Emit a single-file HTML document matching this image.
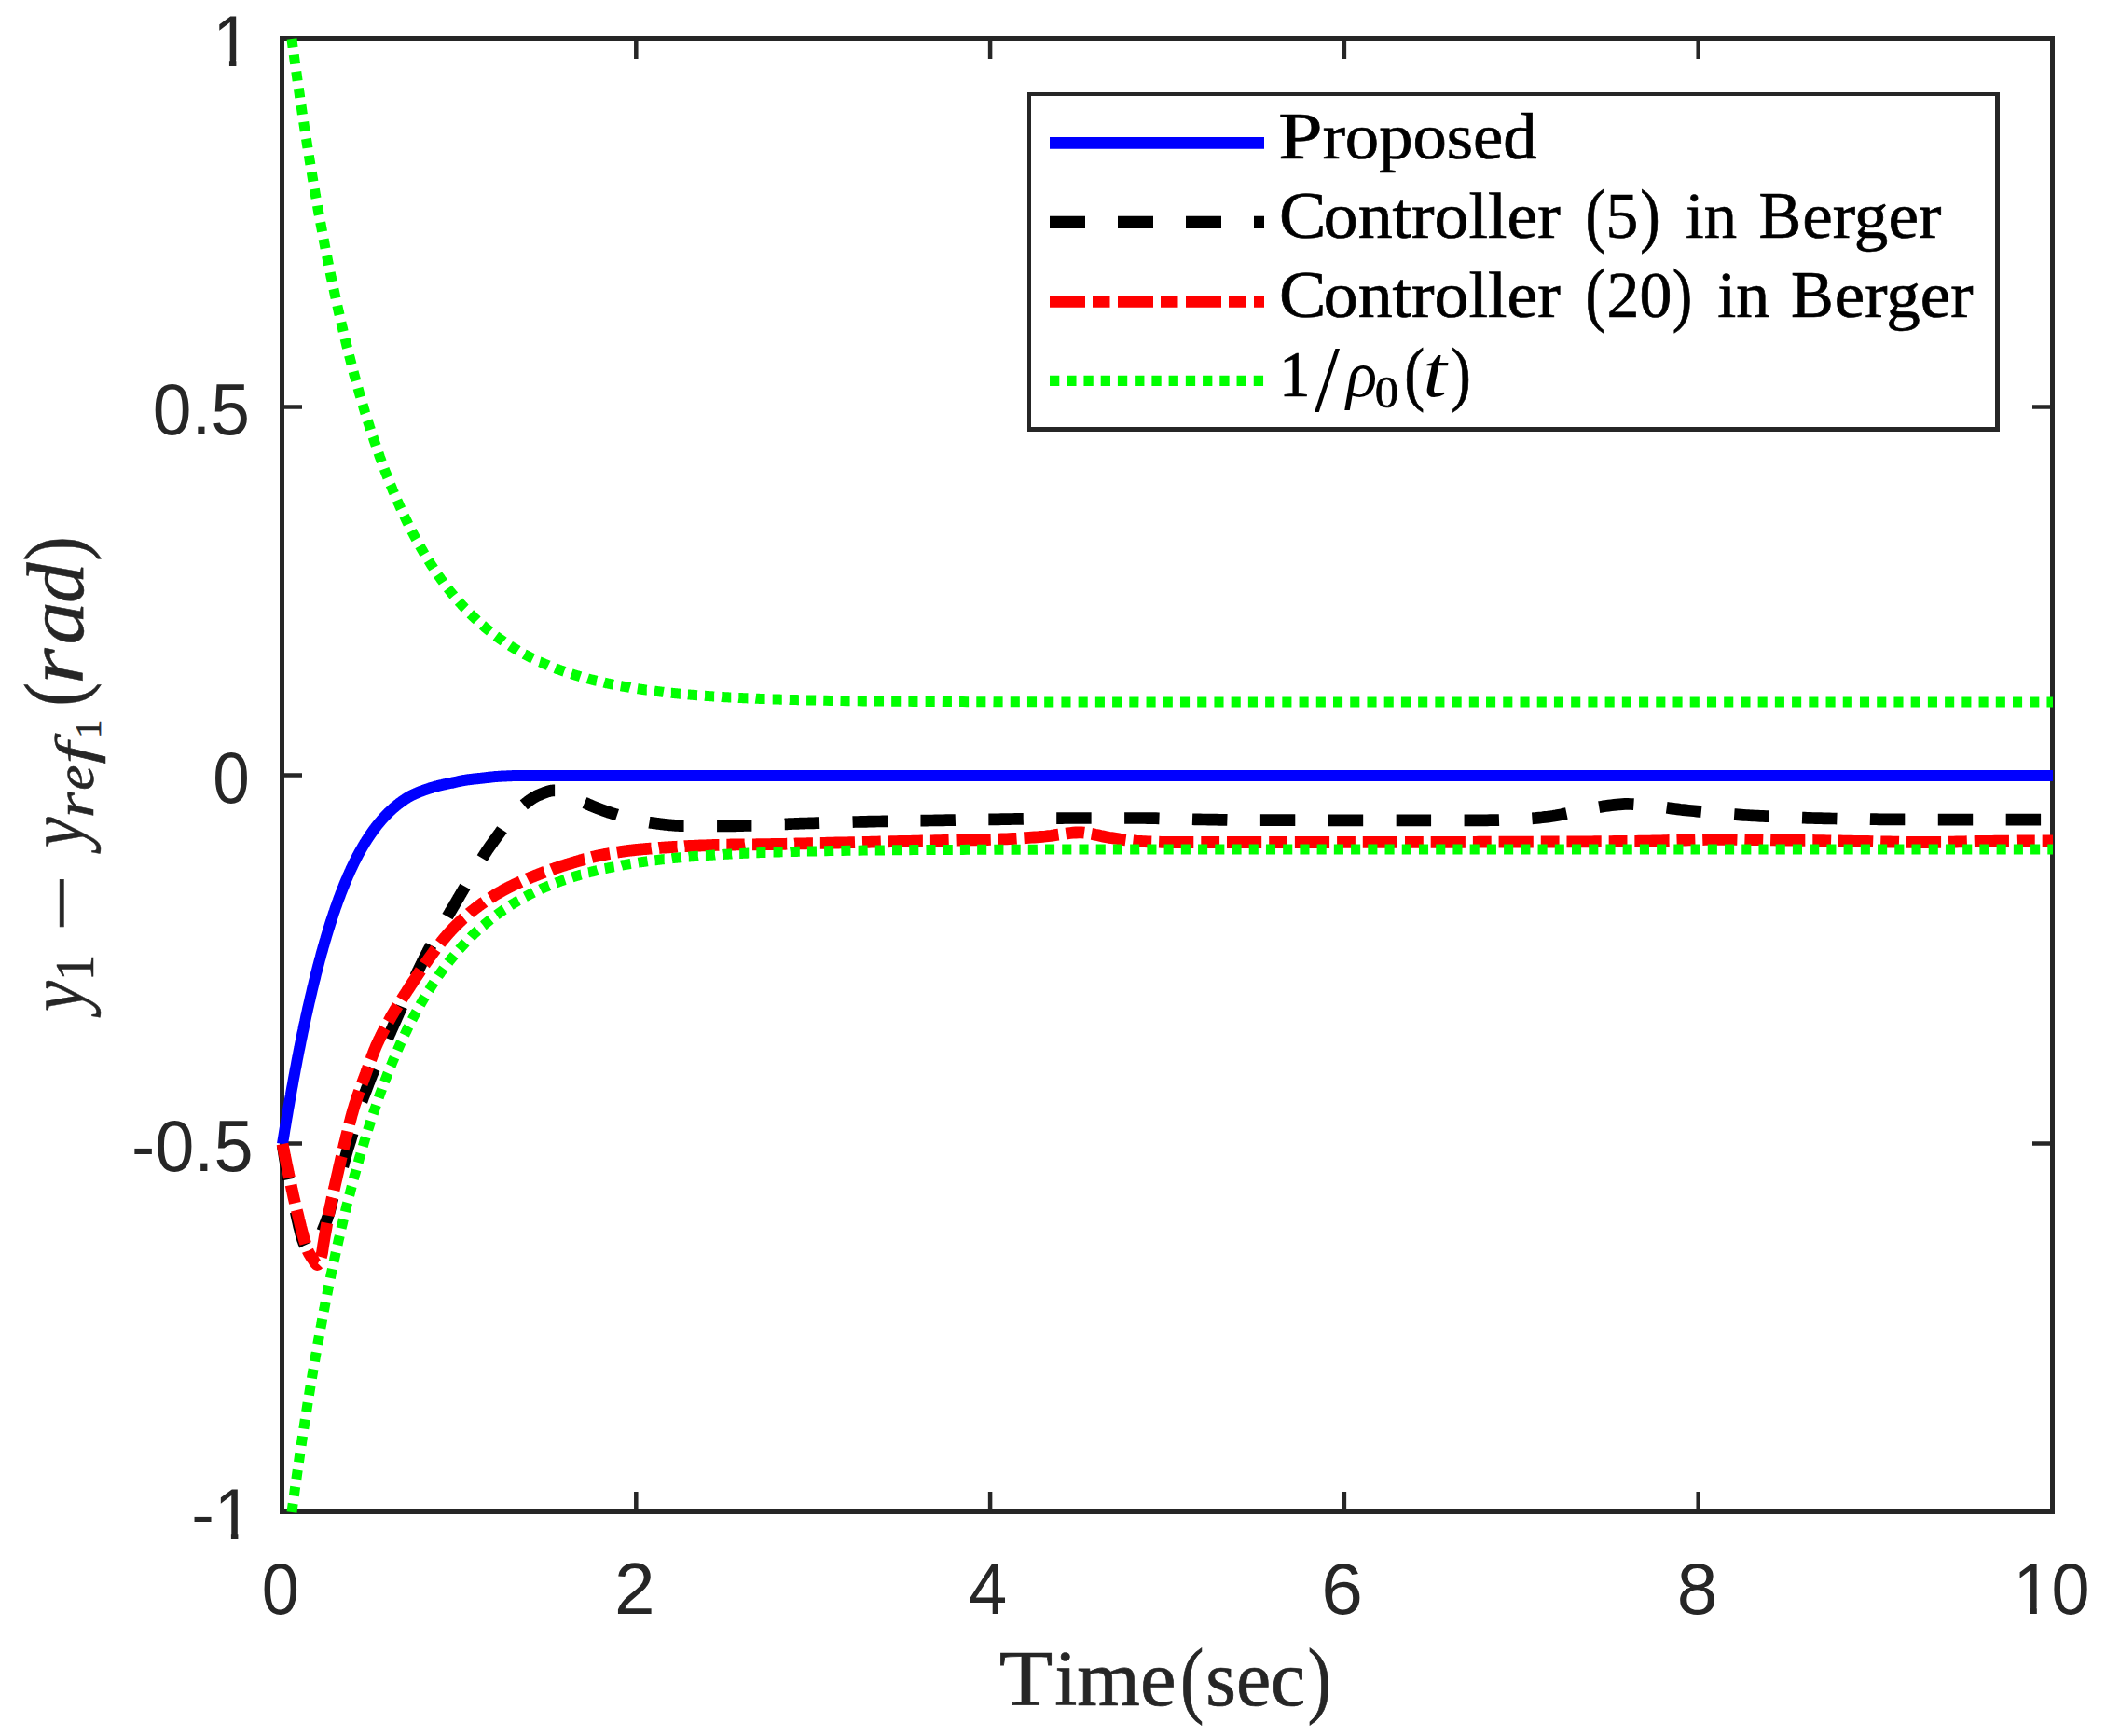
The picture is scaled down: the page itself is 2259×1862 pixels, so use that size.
<!DOCTYPE html>
<html lang="en">
<head>
<meta charset="utf-8">
<title>Tracking error y1 - yref1 (rad) versus Time(sec)</title>
<style>
html,body{margin:0;padding:0;background:#ffffff;}
body{width:2259px;height:1862px;overflow:hidden;}
svg{display:block;}
</style>
</head>
<body>
<svg width="2259" height="1862" viewBox="0 0 2259 1862">
<rect x="0" y="0" width="2259" height="1862" fill="#ffffff"/>
<g stroke="#262626" fill="none">
<rect x="302.5" y="41.5" width="1899.0" height="1580.0" stroke-width="5"/>
<path stroke-width="4.5" d="M682.3,1621.5 V1600.0 M682.3,41.5 V63.0 M1062.1,1621.5 V1600.0 M1062.1,41.5 V63.0 M1441.9,1621.5 V1600.0 M1441.9,41.5 V63.0 M1821.7,1621.5 V1600.0 M1821.7,41.5 V63.0 M302.5,436.6 H324.0 M2201.5,436.6 H2180.0 M302.5,831.6 H324.0 M2201.5,831.6 H2180.0 M302.5,1226.6 H324.0 M2201.5,1226.6 H2180.0"/>
</g>
<g fill="none" stroke-width="12.0" stroke-linejoin="round">
<path id="c-blue" stroke="#0000ff" stroke-width="12" d="M303.0,1227.0 L303.6,1223.1 L304.3,1219.1 L304.9,1215.3 L305.5,1211.4 L306.2,1207.6 L306.8,1203.8 L307.4,1200.0 L308.1,1196.2 L308.7,1192.5 L309.3,1188.8 L310.0,1185.1 L310.6,1181.5 L311.2,1177.9 L311.9,1174.3 L312.5,1170.7 L313.1,1167.2 L313.8,1163.7 L314.4,1160.2 L315.0,1156.7 L315.7,1153.3 L316.3,1149.9 L316.9,1146.5 L317.6,1143.2 L318.2,1139.9 L318.8,1136.6 L319.5,1133.3 L320.1,1130.0 L320.7,1126.8 L321.4,1123.6 L322.0,1120.5 L322.6,1117.3 L323.3,1114.2 L323.9,1111.1 L324.5,1108.0 L325.2,1105.0 L325.8,1102.0 L326.4,1099.0 L327.1,1096.0 L327.7,1093.1 L328.3,1090.1 L329.0,1087.2 L329.6,1084.4 L330.2,1081.5 L330.9,1078.7 L331.5,1075.9 L332.2,1073.1 L332.8,1070.4 L333.4,1067.7 L334.1,1065.0 L334.7,1062.3 L335.3,1059.6 L336.0,1057.0 L336.6,1054.4 L337.2,1051.8 L337.9,1049.3 L338.5,1046.7 L339.1,1044.2 L339.8,1041.7 L340.4,1039.3 L341.0,1036.8 L341.7,1034.4 L342.3,1032.0 L342.9,1029.6 L343.6,1027.3 L344.2,1024.9 L344.8,1022.6 L345.5,1020.3 L346.1,1018.1 L346.7,1015.8 L347.4,1013.6 L348.0,1011.4 L348.6,1009.2 L349.3,1007.0 L349.9,1004.9 L350.5,1002.8 L351.2,1000.7 L351.8,998.6 L352.4,996.5 L353.1,994.5 L353.7,992.5 L354.3,990.5 L355.0,988.5 L355.6,986.6 L356.2,984.6 L356.9,982.7 L357.5,980.8 L358.1,978.9 L358.8,977.1 L359.4,975.2 L360.0,973.4 L360.7,971.6 L361.3,969.8 L361.9,968.0 L362.6,966.3 L363.2,964.6 L363.8,962.9 L364.5,961.2 L365.1,959.5 L365.7,957.8 L366.4,956.2 L367.0,954.6 L367.6,953.0 L368.3,951.4 L368.9,949.8 L369.5,948.3 L370.2,946.7 L370.8,945.2 L371.4,943.7 L372.1,942.2 L372.7,940.8 L373.3,939.3 L374.0,937.9 L374.6,936.4 L375.2,935.0 L375.9,933.6 L376.5,932.3 L377.1,930.9 L377.8,929.6 L378.4,928.2 L379.0,926.9 L379.7,925.6 L380.3,924.3 L380.9,923.1 L381.6,921.8 L382.2,920.6 L382.8,919.4 L383.5,918.1 L384.1,916.9 L384.7,915.8 L385.4,914.6 L386.0,913.4 L386.6,912.3 L387.3,911.2 L387.9,910.1 L388.6,909.0 L389.2,907.9 L389.8,906.8 L390.5,905.7 L391.1,904.7 L391.7,903.6 L392.4,902.6 L393.0,901.6 L393.6,900.6 L394.3,899.6 L394.9,898.7 L395.5,897.7 L396.2,896.7 L396.8,895.8 L397.4,894.9 L398.1,894.0 L398.7,893.1 L399.3,892.2 L400.0,891.3 L400.6,890.4 L401.2,889.5 L401.9,888.7 L402.5,887.9 L403.1,887.0 L403.8,886.2 L404.4,885.4 L405.0,884.6 L405.7,883.8 L406.3,883.1 L406.9,882.3 L407.6,881.5 L408.2,880.8 L408.8,880.0 L409.5,879.3 L410.1,878.6 L410.7,877.9 L411.4,877.2 L412.0,876.5 L412.6,875.8 L413.3,875.2 L413.9,874.5 L414.5,873.8 L415.2,873.2 L415.8,872.6 L416.4,871.9 L417.1,871.3 L417.7,870.7 L418.3,870.1 L419.0,869.5 L419.6,868.9 L420.2,868.4 L420.9,867.8 L421.5,867.2 L422.1,866.7 L422.8,866.1 L423.4,865.6 L424.0,865.0 L424.7,864.5 L425.3,864.0 L425.9,863.5 L426.6,863.0 L427.2,862.5 L427.8,862.0 L428.5,861.5 L429.1,861.1 L429.7,860.6 L430.4,860.1 L431.0,859.7 L431.6,859.2 L432.3,858.8 L432.9,858.3 L433.5,857.9 L434.2,857.5 L434.8,857.0 L435.4,856.6 L436.1,856.2 L436.7,855.8 L437.3,855.4 L438.0,855.0 L438.6,854.7 L439.2,854.3 L439.9,854.0 L440.5,853.6 L441.1,853.3 L441.8,853.0 L442.4,852.7 L443.0,852.4 L443.7,852.1 L444.3,851.8 L444.9,851.5 L445.6,851.2 L446.2,850.9 L446.9,850.7 L447.5,850.4 L448.1,850.1 L448.8,849.9 L449.4,849.6 L450.0,849.3 L450.7,849.1 L451.3,848.9 L451.9,848.6 L452.6,848.4 L453.2,848.1 L453.8,847.9 L454.5,847.7 L455.1,847.4 L455.7,847.2 L456.4,847.0 L457.0,846.8 L457.6,846.6 L458.3,846.4 L458.9,846.1 L459.5,845.9 L460.2,845.7 L460.8,845.5 L461.4,845.3 L462.1,845.1 L462.7,845.0 L463.3,844.8 L464.0,844.6 L464.6,844.4 L465.2,844.2 L465.9,844.0 L466.5,843.9 L467.1,843.7 L467.8,843.5 L468.4,843.3 L469.0,843.2 L469.7,843.0 L470.3,842.8 L470.9,842.7 L471.6,842.5 L472.2,842.4 L472.8,842.2 L473.5,842.1 L474.1,841.9 L474.7,841.8 L475.4,841.6 L476.0,841.5 L476.6,841.4 L477.3,841.2 L477.9,841.1 L478.5,841.0 L479.2,840.8 L479.8,840.7 L480.4,840.6 L481.1,840.4 L481.7,840.3 L482.3,840.2 L483.0,840.0 L483.6,839.9 L484.2,839.8 L484.9,839.7 L485.5,839.5 L486.1,839.4 L486.8,839.3 L487.4,839.1 L488.0,839.0 L488.7,838.9 L489.3,838.7 L489.9,838.6 L490.6,838.4 L491.2,838.3 L491.8,838.2 L492.5,838.0 L493.1,837.9 L493.7,837.8 L494.4,837.6 L495.0,837.5 L495.6,837.4 L496.3,837.3 L496.9,837.2 L497.5,837.0 L498.2,836.9 L498.8,836.8 L499.4,836.7 L500.1,836.6 L500.7,836.5 L501.3,836.4 L502.0,836.3 L502.6,836.3 L503.3,836.2 L503.9,836.1 L504.5,836.0 L505.2,835.9 L505.8,835.9 L506.4,835.8 L507.1,835.7 L507.7,835.6 L508.3,835.6 L509.0,835.5 L509.6,835.4 L510.2,835.4 L510.9,835.3 L511.5,835.2 L512.1,835.2 L512.8,835.1 L513.4,835.0 L514.0,835.0 L514.7,834.9 L515.3,834.8 L515.9,834.8 L516.6,834.7 L517.2,834.6 L517.8,834.6 L518.5,834.5 L519.1,834.4 L519.7,834.3 L520.4,834.3 L521.0,834.2 L521.6,834.1 L522.3,834.0 L522.9,834.0 L523.5,833.9 L524.2,833.8 L524.8,833.8 L525.4,833.7 L526.1,833.6 L526.7,833.5 L527.3,833.5 L528.0,833.4 L528.6,833.3 L529.2,833.3 L529.9,833.2 L530.5,833.1 L531.1,833.1 L531.8,833.0 L532.4,833.0 L533.0,832.9 L533.7,832.9 L534.3,832.8 L534.9,832.8 L535.6,832.7 L536.2,832.7 L536.8,832.7 L537.5,832.6 L538.1,832.6 L538.7,832.6 L539.4,832.5 L540.0,832.5 L540.6,832.5 L541.3,832.4 L541.9,832.4 L542.5,832.4 L543.2,832.4 L543.8,832.3 L544.4,832.3 L545.1,832.3 L545.7,832.3 L546.3,832.2 L547.0,832.2 L547.6,832.2 L548.2,832.2 L548.9,832.2 L549.5,832.1 L550.1,832.1 L550.8,832.1 L551.4,832.1 L552.0,832.1 L552.7,832.1 L553.3,832.1 L553.9,832.1 L554.6,832.1 L555.2,832.1 L555.8,832.1 L556.5,832.1 L557.1,832.1 L557.7,832.1 L558.4,832.1 L559.0,832.1 L559.7,832.0 L560.3,832.0 L560.9,832.0 L561.6,832.0 L562.2,832.0 L562.8,832.0 L563.5,832.0 L564.1,832.0 L564.7,832.0 L565.4,832.0 L566.0,832.0 L566.6,832.0 L567.3,832.0 L567.9,832.0 L568.5,832.0 L569.2,832.0 L569.8,832.0 L570.4,832.0 L571.1,832.0 L571.7,832.0 L572.3,832.0 L573.0,832.0 L573.6,832.0 L574.2,832.0 L574.9,832.0 L575.5,832.0 L576.1,832.0 L576.8,832.0 L577.4,832.0 L578.0,832.0 L578.7,832.0 L579.3,832.0 L579.9,832.0 L580.6,832.0 L581.2,832.0 L581.8,832.0 L582.5,832.0 L583.1,832.0 L583.7,832.0 L584.4,832.0 L585.0,832.0 L585.6,832.0 L586.3,832.0 L586.9,832.0 L587.5,832.0 L588.2,832.0 L588.8,832.0 L589.4,832.0 L590.1,832.0 L590.7,832.0 L591.3,832.0 L592.0,832.0 L592.6,832.0 L593.2,832.0 L593.9,832.0 L594.5,832.0 L595.1,832.0 L595.8,832.0 L596.4,832.0 L597.0,832.0 L597.7,832.0 L598.3,832.0 L598.9,832.0 L599.6,832.0 L600.2,832.0 L600.8,832.0 L601.5,832.0 L602.1,832.0 L602.7,832.0 L603.4,832.0 L604.0,832.0 L604.6,832.0 L605.3,832.0 L605.9,832.0 L606.5,832.0 L607.2,832.0 L607.8,832.0 L608.4,832.0 L609.1,832.0 L609.7,832.0 L610.3,832.0 L611.0,832.0 L611.6,832.0 L612.2,832.0 L612.9,832.0 L613.5,832.0 L614.1,832.0 L614.8,832.0 L615.4,832.0 L616.0,832.0 L616.7,832.0 L617.3,832.0 L618.0,832.0 L618.6,832.0 L619.2,832.0 L619.9,832.0 L620.5,832.0 L621.1,832.0 L621.8,832.0 L622.4,832.0 L623.0,832.0 L623.7,832.0 L624.3,832.0 L624.9,832.0 L625.6,832.0 L626.2,832.0 L626.8,832.0 L627.5,832.0 L628.1,832.0 L628.7,832.0 L629.4,832.0 L630.0,832.0 L630.6,832.0 L631.3,832.0 L631.9,832.0 L632.5,832.0 L633.2,832.0 L633.8,832.0 L634.4,832.0 L635.1,832.0 L635.7,832.0 L636.3,832.0 L637.0,832.0 L637.6,832.0 L638.2,832.0 L638.9,832.0 L639.5,832.0 L640.1,832.0 L640.8,832.0 L641.4,832.0 L642.0,832.0 L642.7,832.0 L643.3,832.0 L643.9,832.0 L644.6,832.0 L645.2,832.0 L645.8,832.0 L646.5,832.0 L647.1,832.0 L647.7,832.0 L648.4,832.0 L649.0,832.0 L649.6,832.0 L650.3,832.0 L650.9,832.0 L651.5,832.0 L652.2,832.0 L652.8,832.0 L653.4,832.0 L654.1,832.0 L654.7,832.0 L655.3,832.0 L656.0,832.0 L656.6,832.0 L657.2,832.0 L657.9,832.0 L658.5,832.0 L659.1,832.0 L659.8,832.0 L660.4,832.0 L661.0,832.0 L661.7,832.0 L662.3,832.0 L662.9,832.0 L663.6,832.0 L664.2,832.0 L664.8,832.0 L665.5,832.0 L666.1,832.0 L666.7,832.0 L667.4,832.0 L668.0,832.0 L668.6,832.0 L669.3,832.0 L669.9,832.0 L670.5,832.0 L671.2,832.0 L671.8,832.0 L672.4,832.0 L673.1,832.0 L673.7,832.0 L674.4,832.0 L675.0,832.0 L675.6,832.0 L676.3,832.0 L676.9,832.0 L677.5,832.0 L678.2,832.0 L678.8,832.0 L679.4,832.0 L680.1,832.0 L680.7,832.0 L681.3,832.0 L682.0,832.0 L682.6,832.0 L683.2,832.0 L683.9,832.0 L684.5,832.0 L685.1,832.0 L685.8,832.0 L686.4,832.0 L687.0,832.0 L687.7,832.0 L688.3,832.0 L688.9,832.0 L689.6,832.0 L690.2,832.0 L690.8,832.0 L691.5,832.0 L692.1,832.0 L692.7,832.0 L693.4,832.0 L694.0,832.0 L694.6,832.0 L695.3,832.0 L695.9,832.0 L696.5,832.0 L697.2,832.0 L697.8,832.0 L698.4,832.0 L699.1,832.0 L699.7,832.0 L700.3,832.0 L701.0,832.0 L701.6,832.0 L702.2,832.0 L702.9,832.0 L703.5,832.0 L704.1,832.0 L704.8,832.0 L705.4,832.0 L706.0,832.0 L706.7,832.0 L707.3,832.0 L707.9,832.0 L708.6,832.0 L709.2,832.0 L709.8,832.0 L710.5,832.0 L711.1,832.0 L711.7,832.0 L712.4,832.0 L713.0,832.0 L713.6,832.0 L714.3,832.0 L714.9,832.0 L715.5,832.0 L716.2,832.0 L716.8,832.0 L717.4,832.0 L718.1,832.0 L718.7,832.0 L719.3,832.0 L720.0,832.0 L720.6,832.0 L721.2,832.0 L721.9,832.0 L722.5,832.0 L723.1,832.0 L723.8,832.0 L724.4,832.0 L725.0,832.0 L725.7,832.0 L726.3,832.0 L726.9,832.0 L727.6,832.0 L728.2,832.0 L728.8,832.0 L729.5,832.0 L730.1,832.0 L730.8,832.0 L731.4,832.0 L732.0,832.0 L732.7,832.0 L733.3,832.0 L733.9,832.0 L734.6,832.0 L735.2,832.0 L735.8,832.0 L736.5,832.0 L737.1,832.0 L737.7,832.0 L738.4,832.0 L739.0,832.0 L739.6,832.0 L740.3,832.0 L740.9,832.0 L741.5,832.0 L742.2,832.0 L742.8,832.0 L743.4,832.0 L744.1,832.0 L744.7,832.0 L745.3,832.0 L746.0,832.0 L746.6,832.0 L747.2,832.0 L747.9,832.0 L748.5,832.0 L749.1,832.0 L749.8,832.0 L750.4,832.0 L751.0,832.0 L751.7,832.0 L752.3,832.0 L752.9,832.0 L753.6,832.0 L754.2,832.0 L754.8,832.0 L755.5,832.0 L756.1,832.0 L756.7,832.0 L757.4,832.0 L758.0,832.0 L758.6,832.0 L759.3,832.0 L759.9,832.0 L760.5,832.0 L761.2,832.0 L761.8,832.0 L762.4,832.0 L763.1,832.0 L763.7,832.0 L764.3,832.0 L765.0,832.0 L765.6,832.0 L766.2,832.0 L766.9,832.0 L767.5,832.0 L768.1,832.0 L768.8,832.0 L769.4,832.0 L770.0,832.0 L770.7,832.0 L771.3,832.0 L771.9,832.0 L772.6,832.0 L773.2,832.0 L773.8,832.0 L774.5,832.0 L775.1,832.0 L775.7,832.0 L776.4,832.0 L777.0,832.0 L777.6,832.0 L778.3,832.0 L778.9,832.0 L779.5,832.0 L780.2,832.0 L780.8,832.0 L781.4,832.0 L782.1,832.0 L782.7,832.0 L783.3,832.0 L784.0,832.0 L784.6,832.0 L785.2,832.0 L785.9,832.0 L786.5,832.0 L787.1,832.0 L787.8,832.0 L788.4,832.0 L789.1,832.0 L789.7,832.0 L790.3,832.0 L791.0,832.0 L791.6,832.0 L792.2,832.0 L792.9,832.0 L793.5,832.0 L794.1,832.0 L794.8,832.0 L795.4,832.0 L796.0,832.0 L796.7,832.0 L797.3,832.0 L797.9,832.0 L798.6,832.0 L799.2,832.0 L799.8,832.0 L800.5,832.0 L801.1,832.0 L801.7,832.0 L802.4,832.0 L803.0,832.0 L803.6,832.0 L804.3,832.0 L804.9,832.0 L805.5,832.0 L806.2,832.0 L806.8,832.0 L807.4,832.0 L808.1,832.0 L808.7,832.0 L809.3,832.0 L810.0,832.0 L810.6,832.0 L811.2,832.0 L811.9,832.0 L812.5,832.0 L813.1,832.0 L813.8,832.0 L814.4,832.0 L815.0,832.0 L815.7,832.0 L816.3,832.0 L816.9,832.0 L817.6,832.0 L818.2,832.0 L818.8,832.0 L819.5,832.0 L820.1,832.0 L820.7,832.0 L821.4,832.0 L822.0,832.0 L822.6,832.0 L823.3,832.0 L823.9,832.0 L824.5,832.0 L825.2,832.0 L825.8,832.0 L826.4,832.0 L827.1,832.0 L827.7,832.0 L828.3,832.0 L829.0,832.0 L829.6,832.0 L830.2,832.0 L830.9,832.0 L831.5,832.0 L832.1,832.0 L832.8,832.0 L833.4,832.0 L834.0,832.0 L834.7,832.0 L835.3,832.0 L835.9,832.0 L836.6,832.0 L837.2,832.0 L837.8,832.0 L838.5,832.0 L839.1,832.0 L839.7,832.0 L840.4,832.0 L841.0,832.0 L841.6,832.0 L842.3,832.0 L842.9,832.0 L843.5,832.0 L844.2,832.0 L844.8,832.0 L845.5,832.0 L846.1,832.0 L846.7,832.0 L847.4,832.0 L848.0,832.0 L848.6,832.0 L849.3,832.0 L849.9,832.0 L850.5,832.0 L851.2,832.0 L851.8,832.0 L852.4,832.0 L853.1,832.0 L853.7,832.0 L854.3,832.0 L855.0,832.0 L855.6,832.0 L856.2,832.0 L856.9,832.0 L857.5,832.0 L858.1,832.0 L858.8,832.0 L859.4,832.0 L860.0,832.0 L860.7,832.0 L861.3,832.0 L861.9,832.0 L862.6,832.0 L863.2,832.0 L863.8,832.0 L864.5,832.0 L865.1,832.0 L865.7,832.0 L866.4,832.0 L867.0,832.0 L867.6,832.0 L868.3,832.0 L868.9,832.0 L869.5,832.0 L870.2,832.0 L870.8,832.0 L871.4,832.0 L872.1,832.0 L872.7,832.0 L899.8,832.0 L927.0,832.0 L954.1,832.0 L981.2,832.0 L1008.3,832.0 L1035.5,832.0 L1062.6,832.0 L1089.7,832.0 L1116.9,832.0 L1144.0,832.0 L1171.1,832.0 L1198.2,832.0 L1225.4,832.0 L1252.5,832.0 L1279.6,832.0 L1306.8,832.0 L1333.9,832.0 L1361.0,832.0 L1388.1,832.0 L1415.3,832.0 L1442.4,832.0 L1469.5,832.0 L1496.7,832.0 L1523.8,832.0 L1550.9,832.0 L1578.0,832.0 L1605.2,832.0 L1632.3,832.0 L1659.4,832.0 L1686.6,832.0 L1713.7,832.0 L1740.8,832.0 L1767.9,832.0 L1795.1,832.0 L1822.2,832.0 L1849.3,832.0 L1876.5,832.0 L1903.6,832.0 L1930.7,832.0 L1957.8,832.0 L1985.0,832.0 L2012.1,832.0 L2039.2,832.0 L2066.4,832.0 L2093.5,832.0 L2120.6,832.0 L2147.7,832.0 L2174.9,832.0 L2202.0,832.0"/>
<path id="c-black" stroke="#000000" stroke-width="12.7" stroke-dasharray="37.4 35.50" stroke-dashoffset="71.75" d="M303.0,1227.0 L303.6,1231.1 L304.3,1235.2 L304.9,1239.1 L305.5,1243.0 L306.2,1246.8 L306.8,1250.5 L307.4,1254.0 L308.1,1257.5 L308.7,1260.9 L309.3,1264.2 L310.0,1267.4 L310.6,1270.5 L311.2,1273.5 L311.9,1276.4 L312.5,1279.3 L313.1,1282.1 L313.8,1284.8 L314.4,1287.6 L315.0,1290.3 L315.7,1293.1 L316.3,1295.9 L316.9,1298.7 L317.6,1301.6 L318.2,1304.4 L318.8,1307.3 L319.5,1310.1 L320.1,1312.8 L320.7,1315.5 L321.4,1318.1 L322.0,1320.6 L322.6,1323.1 L323.3,1325.3 L323.9,1327.5 L324.5,1329.5 L325.2,1331.3 L325.8,1332.9 L326.4,1334.3 L327.1,1335.6 L327.7,1336.9 L328.3,1338.0 L329.0,1339.0 L329.6,1340.0 L330.2,1340.9 L330.9,1341.9 L331.5,1342.7 L332.2,1343.0 L332.8,1342.6 L333.4,1341.9 L334.1,1341.1 L334.7,1340.3 L335.3,1339.5 L336.0,1338.6 L336.6,1337.7 L337.2,1336.7 L337.9,1335.7 L338.5,1334.7 L339.1,1333.7 L339.8,1332.6 L340.4,1331.5 L341.0,1330.3 L341.7,1329.2 L342.3,1327.9 L342.9,1326.6 L343.6,1325.3 L344.2,1323.9 L344.8,1322.5 L345.5,1321.0 L346.1,1319.5 L346.7,1318.0 L347.4,1316.5 L348.0,1314.9 L348.6,1313.4 L349.3,1311.7 L349.9,1310.1 L350.5,1308.4 L351.2,1306.6 L351.8,1304.7 L352.4,1302.8 L353.1,1300.8 L353.7,1298.6 L354.3,1296.2 L355.0,1293.5 L355.6,1290.7 L356.2,1288.0 L356.9,1285.4 L357.5,1283.0 L358.1,1280.9 L358.8,1278.9 L359.4,1277.0 L360.0,1275.1 L360.7,1273.3 L361.3,1271.6 L361.9,1269.8 L362.6,1268.1 L363.2,1266.3 L363.8,1264.5 L364.5,1262.7 L365.1,1260.7 L365.7,1258.7 L366.4,1256.5 L367.0,1254.3 L367.6,1252.0 L368.3,1249.7 L368.9,1247.3 L369.5,1244.9 L370.2,1242.6 L370.8,1240.2 L371.4,1238.0 L372.1,1235.7 L372.7,1233.6 L373.3,1231.5 L374.0,1229.5 L374.6,1227.5 L375.2,1225.5 L375.9,1223.4 L376.5,1221.3 L377.1,1219.1 L377.8,1216.8 L378.4,1214.5 L379.0,1212.1 L379.7,1209.8 L380.3,1207.4 L380.9,1205.0 L381.6,1202.6 L382.2,1200.2 L382.8,1197.9 L383.5,1195.6 L384.1,1193.4 L384.7,1191.3 L385.4,1189.3 L386.0,1187.3 L386.6,1185.4 L387.3,1183.6 L387.9,1181.8 L388.6,1180.1 L389.2,1178.4 L389.8,1176.7 L390.5,1175.0 L391.1,1173.4 L391.7,1171.7 L392.4,1170.1 L393.0,1168.5 L393.6,1166.8 L394.3,1165.1 L394.9,1163.4 L395.5,1161.7 L396.2,1160.1 L396.8,1158.4 L397.4,1156.8 L398.1,1155.2 L398.7,1153.6 L399.3,1152.0 L400.0,1150.5 L400.6,1148.9 L401.2,1147.4 L401.9,1145.9 L402.5,1144.4 L403.1,1142.9 L403.8,1141.4 L404.4,1139.9 L405.0,1138.4 L405.7,1136.9 L406.3,1135.4 L406.9,1134.0 L407.6,1132.5 L408.2,1131.0 L408.8,1129.6 L409.5,1128.1 L410.1,1126.7 L410.7,1125.3 L411.4,1123.8 L412.0,1122.4 L412.6,1121.0 L413.3,1119.5 L413.9,1118.1 L414.5,1116.7 L415.2,1115.3 L415.8,1113.8 L416.4,1112.4 L417.1,1111.0 L417.7,1109.6 L418.3,1108.2 L419.0,1106.7 L419.6,1105.3 L420.2,1103.9 L420.9,1102.5 L421.5,1101.1 L422.1,1099.6 L422.8,1098.2 L423.4,1096.8 L424.0,1095.4 L424.7,1093.9 L425.3,1092.5 L425.9,1091.1 L426.6,1089.6 L427.2,1088.2 L427.8,1086.7 L428.5,1085.3 L429.1,1083.9 L429.7,1082.4 L430.4,1081.0 L431.0,1079.5 L431.6,1078.1 L432.3,1076.7 L432.9,1075.2 L433.5,1073.8 L434.2,1072.4 L434.8,1070.9 L435.4,1069.5 L436.1,1068.1 L436.7,1066.7 L437.3,1065.3 L438.0,1063.8 L438.6,1062.4 L439.2,1061.0 L439.9,1059.6 L440.5,1058.2 L441.1,1056.8 L441.8,1055.4 L442.4,1054.0 L443.0,1052.7 L443.7,1051.3 L444.3,1049.9 L444.9,1048.5 L445.6,1047.2 L446.2,1045.8 L446.9,1044.5 L447.5,1043.1 L448.1,1041.8 L448.8,1040.5 L449.4,1039.2 L450.0,1037.9 L450.7,1036.6 L451.3,1035.3 L451.9,1034.0 L452.6,1032.7 L453.2,1031.4 L453.8,1030.2 L454.5,1028.9 L455.1,1027.7 L455.7,1026.5 L456.4,1025.2 L457.0,1024.0 L457.6,1022.8 L458.3,1021.6 L458.9,1020.4 L459.5,1019.2 L460.2,1018.0 L460.8,1016.8 L461.4,1015.7 L462.1,1014.5 L462.7,1013.3 L463.3,1012.2 L464.0,1011.0 L464.6,1009.9 L465.2,1008.7 L465.9,1007.6 L466.5,1006.5 L467.1,1005.3 L467.8,1004.2 L468.4,1003.1 L469.0,1002.0 L469.7,1000.8 L470.3,999.7 L470.9,998.6 L471.6,997.5 L472.2,996.4 L472.8,995.3 L473.5,994.2 L474.1,993.1 L474.7,992.0 L475.4,991.0 L476.0,989.9 L476.6,988.8 L477.3,987.7 L477.9,986.6 L478.5,985.5 L479.2,984.5 L479.8,983.4 L480.4,982.3 L481.1,981.2 L481.7,980.2 L482.3,979.1 L483.0,978.0 L483.6,976.9 L484.2,975.9 L484.9,974.8 L485.5,973.7 L486.1,972.7 L486.8,971.6 L487.4,970.5 L488.0,969.4 L488.7,968.4 L489.3,967.3 L489.9,966.2 L490.6,965.1 L491.2,964.1 L491.8,963.0 L492.5,961.9 L493.1,960.8 L493.7,959.7 L494.4,958.6 L495.0,957.5 L495.6,956.4 L496.3,955.4 L496.9,954.3 L497.5,953.2 L498.2,952.1 L498.8,951.0 L499.4,949.9 L500.1,948.8 L500.7,947.7 L501.3,946.6 L502.0,945.6 L502.6,944.5 L503.3,943.4 L503.9,942.3 L504.5,941.2 L505.2,940.2 L505.8,939.1 L506.4,938.0 L507.1,936.9 L507.7,935.9 L508.3,934.8 L509.0,933.8 L509.6,932.7 L510.2,931.6 L510.9,930.6 L511.5,929.5 L512.1,928.5 L512.8,927.5 L513.4,926.4 L514.0,925.4 L514.7,924.4 L515.3,923.4 L515.9,922.4 L516.6,921.4 L517.2,920.4 L517.8,919.4 L518.5,918.4 L519.1,917.4 L519.7,916.4 L520.4,915.4 L521.0,914.5 L521.6,913.5 L522.3,912.6 L522.9,911.6 L523.5,910.7 L524.2,909.8 L524.8,908.8 L525.4,907.9 L526.1,907.0 L526.7,906.1 L527.3,905.3 L528.0,904.4 L528.6,903.5 L529.2,902.6 L529.9,901.7 L530.5,900.8 L531.1,900.0 L531.8,899.1 L532.4,898.2 L533.0,897.3 L533.7,896.4 L534.3,895.6 L534.9,894.7 L535.6,893.8 L536.2,893.0 L536.8,892.1 L537.5,891.2 L538.1,890.4 L538.7,889.5 L539.4,888.7 L540.0,887.8 L540.6,887.0 L541.3,886.1 L541.9,885.3 L542.5,884.5 L543.2,883.6 L543.8,882.8 L544.4,882.0 L545.1,881.2 L545.7,880.4 L546.3,879.6 L547.0,878.8 L547.6,878.1 L548.2,877.3 L548.9,876.5 L549.5,875.8 L550.1,875.0 L550.8,874.3 L551.4,873.6 L552.0,872.9 L552.7,872.2 L553.3,871.5 L553.9,870.8 L554.6,870.1 L555.2,869.5 L555.8,868.8 L556.5,868.2 L557.1,867.5 L557.7,866.9 L558.4,866.3 L559.0,865.7 L559.7,865.2 L560.3,864.6 L560.9,864.0 L561.6,863.5 L562.2,863.0 L562.8,862.5 L563.5,862.0 L564.1,861.5 L564.7,861.0 L565.4,860.5 L566.0,860.0 L566.6,859.5 L567.3,859.0 L567.9,858.6 L568.5,858.1 L569.2,857.7 L569.8,857.3 L570.4,856.8 L571.1,856.4 L571.7,856.0 L572.3,855.6 L573.0,855.2 L573.6,854.9 L574.2,854.5 L574.9,854.2 L575.5,853.8 L576.1,853.5 L576.8,853.2 L577.4,852.9 L578.0,852.7 L578.7,852.4 L579.3,852.2 L579.9,851.9 L580.6,851.6 L581.2,851.4 L581.8,851.1 L582.5,850.9 L583.1,850.6 L583.7,850.4 L584.4,850.1 L585.0,849.9 L585.6,849.7 L586.3,849.4 L586.9,849.2 L587.5,849.0 L588.2,848.8 L588.8,848.7 L589.4,848.5 L590.1,848.3 L590.7,848.2 L591.3,848.1 L592.0,848.0 L592.6,847.9 L593.2,847.9 L593.9,847.8 L594.5,847.8 L595.1,847.8 L595.8,847.8 L596.4,847.8 L597.0,847.9 L597.7,847.9 L598.3,847.9 L598.9,848.0 L599.6,848.0 L600.2,848.1 L600.8,848.2 L601.5,848.2 L602.1,848.3 L602.7,848.4 L603.4,848.5 L604.0,848.6 L604.6,848.7 L605.3,848.7 L605.9,848.8 L606.5,848.9 L607.2,849.0 L607.8,849.2 L608.4,849.4 L609.1,849.6 L609.7,849.8 L610.3,850.1 L611.0,850.4 L611.6,850.7 L612.2,851.0 L612.9,851.4 L613.5,851.8 L614.1,852.2 L614.8,852.6 L615.4,853.0 L616.0,853.5 L616.7,853.9 L617.3,854.4 L618.0,854.9 L618.6,855.3 L619.2,855.8 L619.9,856.3 L620.5,856.7 L621.1,857.2 L621.8,857.7 L622.4,858.1 L623.0,858.5 L623.7,859.0 L624.3,859.4 L624.9,859.8 L625.6,860.1 L626.2,860.5 L626.8,860.8 L627.5,861.1 L628.1,861.4 L628.7,861.7 L629.4,862.0 L630.0,862.3 L630.6,862.6 L631.3,862.9 L631.9,863.1 L632.5,863.4 L633.2,863.7 L633.8,864.0 L634.4,864.2 L635.1,864.5 L635.7,864.8 L636.3,865.0 L637.0,865.3 L637.6,865.6 L638.2,865.8 L638.9,866.1 L639.5,866.3 L640.1,866.6 L640.8,866.8 L641.4,867.1 L642.0,867.3 L642.7,867.6 L643.3,867.8 L643.9,868.0 L644.6,868.3 L645.2,868.5 L645.8,868.7 L646.5,869.0 L647.1,869.2 L647.7,869.4 L648.4,869.6 L649.0,869.9 L649.6,870.1 L650.3,870.3 L650.9,870.5 L651.5,870.7 L652.2,870.9 L652.8,871.2 L653.4,871.4 L654.1,871.6 L654.7,871.8 L655.3,872.0 L656.0,872.2 L656.6,872.4 L657.2,872.6 L657.9,872.8 L658.5,873.0 L659.1,873.2 L659.8,873.4 L660.4,873.5 L661.0,873.7 L661.7,873.9 L662.3,874.1 L662.9,874.3 L663.6,874.5 L664.2,874.6 L664.8,874.8 L665.5,875.0 L666.1,875.2 L666.7,875.4 L667.4,875.6 L668.0,875.7 L668.6,875.9 L669.3,876.1 L669.9,876.3 L670.5,876.4 L671.2,876.6 L671.8,876.8 L672.4,877.0 L673.1,877.1 L673.7,877.3 L674.4,877.5 L675.0,877.7 L675.6,877.8 L676.3,878.0 L676.9,878.2 L677.5,878.3 L678.2,878.5 L678.8,878.6 L679.4,878.8 L680.1,878.9 L680.7,879.1 L681.3,879.3 L682.0,879.4 L682.6,879.6 L683.2,879.7 L683.9,879.8 L684.5,880.0 L685.1,880.1 L685.8,880.3 L686.4,880.4 L687.0,880.5 L687.7,880.7 L688.3,880.8 L688.9,880.9 L689.6,881.0 L690.2,881.1 L690.8,881.3 L691.5,881.4 L692.1,881.5 L692.7,881.6 L693.4,881.7 L694.0,881.8 L694.6,881.9 L695.3,882.0 L695.9,882.1 L696.5,882.2 L697.2,882.3 L697.8,882.3 L698.4,882.4 L699.1,882.5 L699.7,882.6 L700.3,882.7 L701.0,882.8 L701.6,882.9 L702.2,882.9 L702.9,883.0 L703.5,883.1 L704.1,883.2 L704.8,883.3 L705.4,883.4 L706.0,883.4 L706.7,883.5 L707.3,883.6 L707.9,883.7 L708.6,883.8 L709.2,883.8 L709.8,883.9 L710.5,884.0 L711.1,884.1 L711.7,884.1 L712.4,884.2 L713.0,884.3 L713.6,884.4 L714.3,884.4 L714.9,884.5 L715.5,884.6 L716.2,884.6 L716.8,884.7 L717.4,884.8 L718.1,884.8 L718.7,884.9 L719.3,884.9 L720.0,885.0 L720.6,885.0 L721.2,885.1 L721.9,885.1 L722.5,885.2 L723.1,885.2 L723.8,885.3 L724.4,885.3 L725.0,885.4 L725.7,885.4 L726.3,885.5 L726.9,885.5 L727.6,885.5 L728.2,885.6 L728.8,885.6 L729.5,885.6 L730.1,885.6 L730.8,885.7 L731.4,885.7 L732.0,885.7 L732.7,885.7 L733.3,885.7 L733.9,885.7 L734.6,885.7 L735.2,885.7 L735.8,885.8 L736.5,885.8 L737.1,885.8 L737.7,885.8 L738.4,885.8 L739.0,885.8 L739.6,885.8 L740.3,885.8 L740.9,885.8 L741.5,885.8 L742.2,885.8 L742.8,885.9 L743.4,885.9 L744.1,885.9 L744.7,885.9 L745.3,885.9 L746.0,885.9 L746.6,885.9 L747.2,885.9 L747.9,885.9 L748.5,885.9 L749.1,885.9 L749.8,885.9 L750.4,885.9 L751.0,885.9 L751.7,886.0 L752.3,886.0 L752.9,886.0 L753.6,886.0 L754.2,886.0 L754.8,886.0 L755.5,886.0 L756.1,886.0 L756.7,886.0 L757.4,886.0 L758.0,886.0 L758.6,886.0 L759.3,886.0 L759.9,886.0 L760.5,886.0 L761.2,886.0 L761.8,886.0 L762.4,886.0 L763.1,886.0 L763.7,886.0 L764.3,886.0 L765.0,886.0 L765.6,886.0 L766.2,886.0 L766.9,886.0 L767.5,886.0 L768.1,886.0 L768.8,886.0 L769.4,886.0 L770.0,886.0 L770.7,886.0 L771.3,886.0 L771.9,886.0 L772.6,886.0 L773.2,886.0 L773.8,886.0 L774.5,886.0 L775.1,886.0 L775.7,886.0 L776.4,886.0 L777.0,886.0 L777.6,886.0 L778.3,886.0 L778.9,886.0 L779.5,886.0 L780.2,885.9 L780.8,885.9 L781.4,885.9 L782.1,885.9 L782.7,885.9 L783.3,885.9 L784.0,885.9 L784.6,885.9 L785.2,885.9 L785.9,885.8 L786.5,885.8 L787.1,885.8 L787.8,885.8 L788.4,885.8 L789.1,885.8 L789.7,885.8 L790.3,885.7 L791.0,885.7 L791.6,885.7 L792.2,885.7 L792.9,885.7 L793.5,885.7 L794.1,885.6 L794.8,885.6 L795.4,885.6 L796.0,885.6 L796.7,885.6 L797.3,885.6 L797.9,885.5 L798.6,885.5 L799.2,885.5 L799.8,885.5 L800.5,885.5 L801.1,885.5 L801.7,885.4 L802.4,885.4 L803.0,885.4 L803.6,885.4 L804.3,885.4 L804.9,885.4 L805.5,885.3 L806.2,885.3 L806.8,885.3 L807.4,885.3 L808.1,885.3 L808.7,885.3 L809.3,885.2 L810.0,885.2 L810.6,885.2 L811.2,885.2 L811.9,885.2 L812.5,885.1 L813.1,885.1 L813.8,885.1 L814.4,885.1 L815.0,885.1 L815.7,885.0 L816.3,885.0 L816.9,885.0 L817.6,885.0 L818.2,884.9 L818.8,884.9 L819.5,884.9 L820.1,884.9 L820.7,884.8 L821.4,884.8 L822.0,884.8 L822.6,884.8 L823.3,884.7 L823.9,884.7 L824.5,884.7 L825.2,884.7 L825.8,884.6 L826.4,884.6 L827.1,884.6 L827.7,884.5 L828.3,884.5 L829.0,884.5 L829.6,884.5 L830.2,884.4 L830.9,884.4 L831.5,884.4 L832.1,884.3 L832.8,884.3 L833.4,884.3 L834.0,884.3 L834.7,884.2 L835.3,884.2 L835.9,884.2 L836.6,884.1 L837.2,884.1 L837.8,884.1 L838.5,884.1 L839.1,884.0 L839.7,884.0 L840.4,884.0 L841.0,883.9 L841.6,883.9 L842.3,883.9 L842.9,883.8 L843.5,883.8 L844.2,883.8 L844.8,883.8 L845.5,883.7 L846.1,883.7 L846.7,883.7 L847.4,883.7 L848.0,883.6 L848.6,883.6 L849.3,883.6 L849.9,883.5 L850.5,883.5 L851.2,883.5 L851.8,883.5 L852.4,883.4 L853.1,883.4 L853.7,883.4 L854.3,883.4 L855.0,883.3 L855.6,883.3 L856.2,883.3 L856.9,883.3 L857.5,883.2 L858.1,883.2 L858.8,883.2 L859.4,883.2 L860.0,883.2 L860.7,883.1 L861.3,883.1 L861.9,883.1 L862.6,883.1 L863.2,883.1 L863.8,883.0 L864.5,883.0 L865.1,883.0 L865.7,883.0 L866.4,883.0 L867.0,882.9 L867.6,882.9 L868.3,882.9 L868.9,882.9 L869.5,882.9 L870.2,882.8 L870.8,882.8 L871.4,882.8 L872.1,882.8 L872.7,882.8 L875.7,882.7 L878.6,882.6 L881.6,882.5 L884.5,882.4 L887.5,882.3 L890.5,882.2 L893.4,882.2 L896.4,882.1 L899.3,882.0 L902.3,881.9 L905.3,881.8 L908.2,881.8 L911.2,881.7 L914.1,881.6 L917.1,881.5 L920.1,881.5 L923.0,881.4 L926.0,881.3 L929.0,881.3 L931.9,881.2 L934.9,881.1 L937.8,881.1 L940.8,881.0 L943.8,881.0 L946.7,880.9 L949.7,880.8 L952.6,880.8 L955.6,880.7 L958.6,880.7 L961.5,880.6 L964.5,880.6 L967.4,880.5 L970.4,880.5 L973.4,880.4 L976.3,880.4 L979.3,880.3 L982.2,880.3 L985.2,880.2 L988.2,880.2 L991.1,880.1 L994.1,880.1 L997.0,880.0 L1000.0,880.0 L1003.0,879.9 L1005.9,879.9 L1008.9,879.8 L1011.8,879.8 L1014.8,879.7 L1017.8,879.7 L1020.7,879.6 L1023.7,879.6 L1026.7,879.5 L1029.6,879.5 L1032.6,879.4 L1035.5,879.4 L1038.5,879.3 L1041.5,879.3 L1044.4,879.2 L1047.4,879.2 L1050.3,879.1 L1053.3,879.0 L1056.3,879.0 L1059.2,878.9 L1062.2,878.9 L1065.1,878.9 L1068.1,878.8 L1071.1,878.8 L1074.0,878.7 L1077.0,878.7 L1079.9,878.6 L1082.9,878.6 L1085.9,878.5 L1088.8,878.4 L1091.8,878.4 L1094.7,878.3 L1097.7,878.3 L1100.7,878.2 L1103.6,878.1 L1106.6,878.1 L1109.5,878.0 L1112.5,878.0 L1115.5,877.9 L1118.4,877.8 L1121.4,877.8 L1124.3,877.7 L1127.3,877.7 L1130.3,877.7 L1133.2,877.6 L1136.2,877.6 L1139.2,877.6 L1142.1,877.5 L1145.1,877.5 L1148.0,877.5 L1151.0,877.5 L1154.0,877.5 L1156.9,877.5 L1159.9,877.5 L1162.8,877.5 L1165.8,877.5 L1168.8,877.5 L1171.7,877.5 L1174.7,877.5 L1177.6,877.5 L1180.6,877.5 L1183.6,877.5 L1186.5,877.5 L1189.5,877.5 L1192.4,877.5 L1195.4,877.5 L1198.4,877.5 L1201.3,877.5 L1204.3,877.5 L1207.2,877.5 L1210.2,877.5 L1213.2,877.5 L1216.1,877.5 L1219.1,877.5 L1222.0,877.5 L1225.0,877.5 L1228.0,877.5 L1230.9,877.6 L1233.9,877.6 L1236.9,877.7 L1239.8,877.7 L1242.8,877.8 L1245.7,877.9 L1248.7,878.0 L1251.7,878.1 L1254.6,878.2 L1257.6,878.3 L1260.5,878.3 L1263.5,878.4 L1266.5,878.5 L1269.4,878.6 L1272.4,878.6 L1275.3,878.7 L1278.3,878.7 L1281.3,878.8 L1284.2,878.9 L1287.2,878.9 L1290.1,879.0 L1293.1,879.0 L1296.1,879.1 L1299.0,879.1 L1302.0,879.2 L1304.9,879.2 L1307.9,879.3 L1310.9,879.3 L1313.8,879.3 L1316.8,879.4 L1319.7,879.4 L1322.7,879.4 L1325.7,879.5 L1328.6,879.5 L1331.6,879.5 L1334.6,879.5 L1337.5,879.5 L1340.5,879.5 L1343.4,879.6 L1346.4,879.6 L1349.4,879.6 L1352.3,879.6 L1355.3,879.6 L1358.2,879.6 L1361.2,879.6 L1364.2,879.6 L1367.1,879.6 L1370.1,879.7 L1373.0,879.7 L1376.0,879.7 L1379.0,879.7 L1381.9,879.7 L1384.9,879.7 L1387.8,879.7 L1390.8,879.7 L1393.8,879.7 L1396.7,879.7 L1399.7,879.7 L1402.6,879.8 L1405.6,879.8 L1408.6,879.8 L1411.5,879.8 L1414.5,879.8 L1417.4,879.8 L1420.4,879.8 L1423.4,879.8 L1426.3,879.8 L1429.3,879.8 L1432.2,879.8 L1435.2,879.8 L1438.2,879.8 L1441.1,879.8 L1444.1,879.8 L1447.1,879.8 L1450.0,879.8 L1453.0,879.8 L1455.9,879.8 L1458.9,879.8 L1461.9,879.8 L1464.8,879.8 L1467.8,879.8 L1470.7,879.8 L1473.7,879.8 L1476.7,879.8 L1479.6,879.8 L1482.6,879.8 L1485.5,879.8 L1488.5,879.8 L1491.5,879.8 L1494.4,879.8 L1497.4,879.8 L1500.3,879.8 L1503.3,879.8 L1506.3,879.8 L1509.2,879.8 L1512.2,879.8 L1515.1,879.8 L1518.1,879.8 L1521.1,879.8 L1524.0,879.8 L1527.0,879.8 L1529.9,879.8 L1532.9,879.8 L1535.9,879.8 L1538.8,879.8 L1541.8,879.8 L1544.8,879.8 L1547.7,879.8 L1550.7,879.8 L1553.6,879.8 L1556.6,879.8 L1559.6,879.8 L1562.5,879.8 L1565.5,879.8 L1568.4,879.8 L1571.4,879.8 L1574.4,879.8 L1577.3,879.8 L1580.3,879.8 L1583.2,879.8 L1586.2,879.8 L1589.2,879.8 L1592.1,879.8 L1595.1,879.8 L1598.0,879.7 L1601.0,879.7 L1604.0,879.6 L1606.9,879.6 L1609.9,879.5 L1612.8,879.4 L1615.8,879.3 L1618.8,879.2 L1621.7,879.1 L1624.7,878.9 L1627.6,878.8 L1630.6,878.7 L1633.6,878.5 L1636.5,878.4 L1639.5,878.2 L1642.5,877.9 L1645.4,877.7 L1648.4,877.4 L1651.3,877.1 L1654.3,876.8 L1657.3,876.4 L1660.2,876.1 L1663.2,875.7 L1666.1,875.3 L1669.1,874.8 L1672.1,874.2 L1675.0,873.7 L1678.0,873.0 L1680.9,872.4 L1683.9,871.8 L1686.9,871.1 L1689.8,870.5 L1692.8,869.8 L1695.7,869.2 L1698.7,868.5 L1701.7,867.9 L1704.6,867.4 L1707.6,866.9 L1710.5,866.4 L1713.5,865.9 L1716.5,865.4 L1719.4,864.9 L1722.4,864.5 L1725.3,864.1 L1728.3,863.7 L1731.3,863.4 L1734.2,863.1 L1737.2,862.8 L1740.1,862.6 L1743.1,862.4 L1746.1,862.4 L1749.0,862.5 L1752.0,862.6 L1755.0,862.8 L1757.9,863.0 L1760.9,863.3 L1763.8,863.5 L1766.8,863.7 L1769.8,864.0 L1772.7,864.3 L1775.7,864.7 L1778.6,865.0 L1781.6,865.4 L1784.6,865.8 L1787.5,866.3 L1790.5,866.7 L1793.4,867.1 L1796.4,867.5 L1799.4,867.9 L1802.3,868.3 L1805.3,868.6 L1808.2,868.9 L1811.2,869.2 L1814.2,869.5 L1817.1,869.8 L1820.1,870.1 L1823.0,870.4 L1826.0,870.7 L1829.0,871.0 L1831.9,871.3 L1834.9,871.5 L1837.8,871.8 L1840.8,872.1 L1843.8,872.3 L1846.7,872.6 L1849.7,872.8 L1852.7,873.0 L1855.6,873.3 L1858.6,873.5 L1861.5,873.7 L1864.5,873.9 L1867.5,874.1 L1870.4,874.3 L1873.4,874.5 L1876.3,874.7 L1879.3,874.8 L1882.3,875.0 L1885.2,875.1 L1888.2,875.3 L1891.1,875.4 L1894.1,875.6 L1897.1,875.7 L1900.0,875.9 L1903.0,876.0 L1905.9,876.1 L1908.9,876.3 L1911.9,876.4 L1914.8,876.5 L1917.8,876.6 L1920.7,876.7 L1923.7,876.8 L1926.7,876.9 L1929.6,877.0 L1932.6,877.1 L1935.5,877.2 L1938.5,877.3 L1941.5,877.4 L1944.4,877.5 L1947.4,877.6 L1950.4,877.6 L1953.3,877.7 L1956.3,877.8 L1959.2,877.8 L1962.2,877.9 L1965.2,878.0 L1968.1,878.0 L1971.1,878.1 L1974.0,878.2 L1977.0,878.2 L1980.0,878.3 L1982.9,878.3 L1985.9,878.4 L1988.8,878.4 L1991.8,878.5 L1994.8,878.5 L1997.7,878.6 L2000.7,878.6 L2003.6,878.6 L2006.6,878.7 L2009.6,878.7 L2012.5,878.7 L2015.5,878.8 L2018.4,878.8 L2021.4,878.8 L2024.4,878.8 L2027.3,878.9 L2030.3,878.9 L2033.2,878.9 L2036.2,878.9 L2039.2,878.9 L2042.1,878.9 L2045.1,878.9 L2048.0,879.0 L2051.0,879.0 L2054.0,879.0 L2056.9,879.0 L2059.9,879.0 L2062.9,879.0 L2065.8,879.0 L2068.8,879.0 L2071.7,879.0 L2074.7,879.1 L2077.7,879.1 L2080.6,879.1 L2083.6,879.1 L2086.5,879.1 L2089.5,879.1 L2092.5,879.1 L2095.4,879.1 L2098.4,879.1 L2101.3,879.1 L2104.3,879.1 L2107.3,879.1 L2110.2,879.1 L2113.2,879.1 L2116.1,879.1 L2119.1,879.1 L2122.1,879.1 L2125.0,879.1 L2128.0,879.1 L2130.9,879.1 L2133.9,879.1 L2136.9,879.1 L2139.8,879.1 L2142.8,879.1 L2145.7,879.1 L2148.7,879.1 L2151.7,879.1 L2154.6,879.1 L2157.6,879.1 L2160.6,879.1 L2163.5,879.1 L2166.5,879.1 L2169.4,879.1 L2172.4,879.1 L2175.4,879.1 L2178.3,879.1 L2181.3,879.1 L2184.2,879.1 L2187.2,879.1 L2190.2,879.1 L2193.1,879.1 L2196.1,879.1 L2199.0,879.1 L2202.0,879.1"/>
<path id="c-red" stroke="#ff0000" stroke-width="12.8" stroke-dasharray="37.2 8 19.8 7.90" stroke-dashoffset="0.23" d="M303.0,1227.0 L303.6,1230.2 L304.3,1233.3 L304.9,1236.5 L305.5,1239.6 L306.2,1242.7 L306.8,1245.8 L307.4,1248.9 L308.1,1251.9 L308.7,1255.0 L309.3,1258.0 L310.0,1261.0 L310.6,1263.9 L311.2,1266.9 L311.9,1269.9 L312.5,1272.8 L313.1,1275.7 L313.8,1278.6 L314.4,1281.5 L315.0,1284.3 L315.7,1287.1 L316.3,1289.8 L316.9,1292.4 L317.6,1295.0 L318.2,1297.5 L318.8,1300.1 L319.5,1302.6 L320.1,1305.2 L320.7,1307.8 L321.4,1310.4 L322.0,1312.9 L322.6,1315.5 L323.3,1318.0 L323.9,1320.5 L324.5,1322.9 L325.2,1325.3 L325.8,1327.6 L326.4,1329.8 L327.1,1332.0 L327.7,1334.1 L328.3,1336.2 L329.0,1338.3 L329.6,1340.1 L330.2,1341.8 L330.9,1343.1 L331.5,1344.4 L332.2,1345.5 L332.8,1346.5 L333.4,1347.5 L334.1,1348.5 L334.7,1349.4 L335.3,1350.2 L336.0,1351.1 L336.6,1352.1 L337.2,1353.1 L337.9,1354.1 L338.5,1355.0 L339.1,1355.7 L339.8,1356.2 L340.4,1356.5 L341.0,1356.3 L341.7,1355.6 L342.3,1354.4 L342.9,1352.9 L343.6,1351.0 L344.2,1348.9 L344.8,1346.8 L345.5,1343.8 L346.1,1339.9 L346.7,1335.6 L347.4,1331.5 L348.0,1327.8 L348.6,1324.2 L349.3,1320.6 L349.9,1317.1 L350.5,1313.6 L351.2,1310.1 L351.8,1306.7 L352.4,1303.4 L353.1,1300.1 L353.7,1296.9 L354.3,1293.9 L355.0,1290.8 L355.6,1287.9 L356.2,1284.9 L356.9,1282.1 L357.5,1279.2 L358.1,1276.4 L358.8,1273.6 L359.4,1270.9 L360.0,1268.1 L360.7,1265.3 L361.3,1262.6 L361.9,1259.8 L362.6,1257.0 L363.2,1254.2 L363.8,1251.4 L364.5,1248.6 L365.1,1245.8 L365.7,1243.0 L366.4,1240.3 L367.0,1237.5 L367.6,1234.8 L368.3,1232.1 L368.9,1229.4 L369.5,1226.8 L370.2,1224.2 L370.8,1221.6 L371.4,1219.0 L372.1,1216.4 L372.7,1213.9 L373.3,1211.3 L374.0,1208.7 L374.6,1206.2 L375.2,1203.7 L375.9,1201.3 L376.5,1198.9 L377.1,1196.5 L377.8,1194.2 L378.4,1192.0 L379.0,1189.8 L379.7,1187.7 L380.3,1185.6 L380.9,1183.6 L381.6,1181.7 L382.2,1179.8 L382.8,1177.9 L383.5,1176.0 L384.1,1174.2 L384.7,1172.4 L385.4,1170.6 L386.0,1168.9 L386.6,1167.1 L387.3,1165.4 L387.9,1163.7 L388.6,1161.9 L389.2,1160.2 L389.8,1158.5 L390.5,1156.8 L391.1,1155.0 L391.7,1153.3 L392.4,1151.5 L393.0,1149.7 L393.6,1148.0 L394.3,1146.2 L394.9,1144.4 L395.5,1142.6 L396.2,1140.9 L396.8,1139.1 L397.4,1137.4 L398.1,1135.7 L398.7,1134.0 L399.3,1132.3 L400.0,1130.6 L400.6,1129.0 L401.2,1127.4 L401.9,1125.8 L402.5,1124.3 L403.1,1122.8 L403.8,1121.3 L404.4,1119.9 L405.0,1118.5 L405.7,1117.2 L406.3,1115.8 L406.9,1114.5 L407.6,1113.2 L408.2,1111.9 L408.8,1110.6 L409.5,1109.3 L410.1,1108.0 L410.7,1106.8 L411.4,1105.6 L412.0,1104.3 L412.6,1103.1 L413.3,1101.9 L413.9,1100.7 L414.5,1099.5 L415.2,1098.4 L415.8,1097.2 L416.4,1096.1 L417.1,1094.9 L417.7,1093.8 L418.3,1092.7 L419.0,1091.5 L419.6,1090.4 L420.2,1089.3 L420.9,1088.2 L421.5,1087.2 L422.1,1086.1 L422.8,1085.0 L423.4,1084.0 L424.0,1082.9 L424.7,1081.9 L425.3,1080.8 L425.9,1079.8 L426.6,1078.7 L427.2,1077.7 L427.8,1076.7 L428.5,1075.7 L429.1,1074.7 L429.7,1073.7 L430.4,1072.7 L431.0,1071.7 L431.6,1070.7 L432.3,1069.7 L432.9,1068.7 L433.5,1067.7 L434.2,1066.7 L434.8,1065.8 L435.4,1064.8 L436.1,1063.8 L436.7,1062.8 L437.3,1061.9 L438.0,1060.9 L438.6,1059.9 L439.2,1059.0 L439.9,1058.0 L440.5,1057.0 L441.1,1056.0 L441.8,1055.1 L442.4,1054.1 L443.0,1053.1 L443.7,1052.2 L444.3,1051.2 L444.9,1050.3 L445.6,1049.3 L446.2,1048.3 L446.9,1047.4 L447.5,1046.4 L448.1,1045.5 L448.8,1044.5 L449.4,1043.6 L450.0,1042.6 L450.7,1041.7 L451.3,1040.8 L451.9,1039.8 L452.6,1038.9 L453.2,1037.9 L453.8,1037.0 L454.5,1036.1 L455.1,1035.2 L455.7,1034.2 L456.4,1033.3 L457.0,1032.4 L457.6,1031.5 L458.3,1030.6 L458.9,1029.7 L459.5,1028.8 L460.2,1027.9 L460.8,1027.0 L461.4,1026.1 L462.1,1025.2 L462.7,1024.4 L463.3,1023.5 L464.0,1022.6 L464.6,1021.8 L465.2,1020.9 L465.9,1020.0 L466.5,1019.2 L467.1,1018.3 L467.8,1017.5 L468.4,1016.7 L469.0,1015.8 L469.7,1015.0 L470.3,1014.2 L470.9,1013.4 L471.6,1012.6 L472.2,1011.8 L472.8,1011.0 L473.5,1010.2 L474.1,1009.4 L474.7,1008.6 L475.4,1007.8 L476.0,1007.1 L476.6,1006.3 L477.3,1005.6 L477.9,1004.8 L478.5,1004.1 L479.2,1003.3 L479.8,1002.6 L480.4,1001.9 L481.1,1001.2 L481.7,1000.5 L482.3,999.8 L483.0,999.1 L483.6,998.4 L484.2,997.7 L484.9,997.1 L485.5,996.4 L486.1,995.7 L486.8,995.1 L487.4,994.4 L488.0,993.8 L488.7,993.1 L489.3,992.5 L489.9,991.9 L490.6,991.3 L491.2,990.6 L491.8,990.0 L492.5,989.4 L493.1,988.8 L493.7,988.2 L494.4,987.6 L495.0,987.0 L495.6,986.4 L496.3,985.8 L496.9,985.2 L497.5,984.7 L498.2,984.1 L498.8,983.5 L499.4,983.0 L500.1,982.4 L500.7,981.8 L501.3,981.3 L502.0,980.8 L502.6,980.2 L503.3,979.7 L503.9,979.1 L504.5,978.6 L505.2,978.1 L505.8,977.6 L506.4,977.1 L507.1,976.6 L507.7,976.1 L508.3,975.6 L509.0,975.1 L509.6,974.6 L510.2,974.1 L510.9,973.6 L511.5,973.1 L512.1,972.7 L512.8,972.2 L513.4,971.7 L514.0,971.3 L514.7,970.8 L515.3,970.3 L515.9,969.9 L516.6,969.4 L517.2,969.0 L517.8,968.5 L518.5,968.1 L519.1,967.7 L519.7,967.2 L520.4,966.8 L521.0,966.4 L521.6,965.9 L522.3,965.5 L522.9,965.1 L523.5,964.7 L524.2,964.3 L524.8,963.9 L525.4,963.4 L526.1,963.0 L526.7,962.6 L527.3,962.2 L528.0,961.8 L528.6,961.4 L529.2,961.1 L529.9,960.7 L530.5,960.3 L531.1,959.9 L531.8,959.5 L532.4,959.1 L533.0,958.8 L533.7,958.4 L534.3,958.0 L534.9,957.7 L535.6,957.3 L536.2,956.9 L536.8,956.6 L537.5,956.2 L538.1,955.9 L538.7,955.5 L539.4,955.2 L540.0,954.8 L540.6,954.5 L541.3,954.1 L541.9,953.8 L542.5,953.5 L543.2,953.1 L543.8,952.8 L544.4,952.5 L545.1,952.1 L545.7,951.8 L546.3,951.5 L547.0,951.2 L547.6,950.9 L548.2,950.6 L548.9,950.2 L549.5,949.9 L550.1,949.6 L550.8,949.3 L551.4,949.0 L552.0,948.7 L552.7,948.4 L553.3,948.1 L553.9,947.8 L554.6,947.5 L555.2,947.2 L555.8,946.9 L556.5,946.6 L557.1,946.4 L557.7,946.1 L558.4,945.8 L559.0,945.5 L559.7,945.2 L560.3,944.9 L560.9,944.7 L561.6,944.4 L562.2,944.1 L562.8,943.8 L563.5,943.6 L564.1,943.3 L564.7,943.0 L565.4,942.8 L566.0,942.5 L566.6,942.2 L567.3,942.0 L567.9,941.7 L568.5,941.5 L569.2,941.2 L569.8,940.9 L570.4,940.7 L571.1,940.4 L571.7,940.2 L572.3,939.9 L573.0,939.7 L573.6,939.4 L574.2,939.2 L574.9,938.9 L575.5,938.7 L576.1,938.4 L576.8,938.2 L577.4,937.9 L578.0,937.7 L578.7,937.4 L579.3,937.2 L579.9,936.9 L580.6,936.7 L581.2,936.5 L581.8,936.2 L582.5,936.0 L583.1,935.8 L583.7,935.5 L584.4,935.3 L585.0,935.0 L585.6,934.8 L586.3,934.6 L586.9,934.4 L587.5,934.1 L588.2,933.9 L588.8,933.7 L589.4,933.4 L590.1,933.2 L590.7,933.0 L591.3,932.8 L592.0,932.5 L592.6,932.3 L593.2,932.1 L593.9,931.9 L594.5,931.7 L595.1,931.4 L595.8,931.2 L596.4,931.0 L597.0,930.8 L597.7,930.6 L598.3,930.4 L598.9,930.2 L599.6,930.0 L600.2,929.7 L600.8,929.5 L601.5,929.3 L602.1,929.1 L602.7,928.9 L603.4,928.7 L604.0,928.5 L604.6,928.3 L605.3,928.1 L605.9,927.9 L606.5,927.7 L607.2,927.5 L607.8,927.3 L608.4,927.1 L609.1,926.9 L609.7,926.7 L610.3,926.5 L611.0,926.3 L611.6,926.2 L612.2,926.0 L612.9,925.8 L613.5,925.6 L614.1,925.4 L614.8,925.2 L615.4,925.0 L616.0,924.8 L616.7,924.6 L617.3,924.4 L618.0,924.2 L618.6,924.0 L619.2,923.9 L619.9,923.7 L620.5,923.5 L621.1,923.3 L621.8,923.1 L622.4,922.9 L623.0,922.7 L623.7,922.5 L624.3,922.4 L624.9,922.2 L625.6,922.0 L626.2,921.8 L626.8,921.6 L627.5,921.5 L628.1,921.3 L628.7,921.1 L629.4,920.9 L630.0,920.8 L630.6,920.6 L631.3,920.4 L631.9,920.3 L632.5,920.1 L633.2,919.9 L633.8,919.8 L634.4,919.6 L635.1,919.4 L635.7,919.3 L636.3,919.1 L637.0,919.0 L637.6,918.8 L638.2,918.7 L638.9,918.5 L639.5,918.4 L640.1,918.2 L640.8,918.1 L641.4,918.0 L642.0,917.8 L642.7,917.7 L643.3,917.6 L643.9,917.4 L644.6,917.3 L645.2,917.2 L645.8,917.0 L646.5,916.9 L647.1,916.8 L647.7,916.7 L648.4,916.6 L649.0,916.4 L649.6,916.3 L650.3,916.2 L650.9,916.1 L651.5,916.0 L652.2,915.8 L652.8,915.7 L653.4,915.6 L654.1,915.5 L654.7,915.4 L655.3,915.3 L656.0,915.2 L656.6,915.0 L657.2,914.9 L657.9,914.8 L658.5,914.7 L659.1,914.6 L659.8,914.5 L660.4,914.4 L661.0,914.3 L661.7,914.2 L662.3,914.1 L662.9,914.0 L663.6,913.9 L664.2,913.8 L664.8,913.7 L665.5,913.6 L666.1,913.5 L666.7,913.4 L667.4,913.3 L668.0,913.2 L668.6,913.1 L669.3,913.0 L669.9,913.0 L670.5,912.9 L671.2,912.8 L671.8,912.7 L672.4,912.6 L673.1,912.5 L673.7,912.4 L674.4,912.4 L675.0,912.3 L675.6,912.2 L676.3,912.1 L676.9,912.1 L677.5,912.0 L678.2,911.9 L678.8,911.8 L679.4,911.8 L680.1,911.7 L680.7,911.6 L681.3,911.6 L682.0,911.5 L682.6,911.4 L683.2,911.4 L683.9,911.3 L684.5,911.3 L685.1,911.2 L685.8,911.1 L686.4,911.1 L687.0,911.0 L687.7,911.0 L688.3,910.9 L688.9,910.8 L689.6,910.8 L690.2,910.7 L690.8,910.7 L691.5,910.6 L692.1,910.6 L692.7,910.5 L693.4,910.5 L694.0,910.4 L694.6,910.4 L695.3,910.3 L695.9,910.2 L696.5,910.2 L697.2,910.1 L697.8,910.1 L698.4,910.1 L699.1,910.0 L699.7,910.0 L700.3,909.9 L701.0,909.9 L701.6,909.8 L702.2,909.8 L702.9,909.7 L703.5,909.7 L704.1,909.6 L704.8,909.6 L705.4,909.5 L706.0,909.5 L706.7,909.5 L707.3,909.4 L707.9,909.4 L708.6,909.3 L709.2,909.3 L709.8,909.2 L710.5,909.2 L711.1,909.2 L711.7,909.1 L712.4,909.1 L713.0,909.0 L713.6,909.0 L714.3,909.0 L714.9,908.9 L715.5,908.9 L716.2,908.8 L716.8,908.8 L717.4,908.8 L718.1,908.7 L718.7,908.7 L719.3,908.6 L720.0,908.6 L720.6,908.6 L721.2,908.5 L721.9,908.5 L722.5,908.4 L723.1,908.4 L723.8,908.4 L724.4,908.3 L725.0,908.3 L725.7,908.3 L726.3,908.2 L726.9,908.2 L727.6,908.1 L728.2,908.1 L728.8,908.1 L729.5,908.0 L730.1,908.0 L730.8,908.0 L731.4,907.9 L732.0,907.9 L732.7,907.9 L733.3,907.8 L733.9,907.8 L734.6,907.7 L735.2,907.7 L735.8,907.7 L736.5,907.6 L737.1,907.6 L737.7,907.6 L738.4,907.5 L739.0,907.5 L739.6,907.5 L740.3,907.5 L740.9,907.4 L741.5,907.4 L742.2,907.4 L742.8,907.3 L743.4,907.3 L744.1,907.3 L744.7,907.2 L745.3,907.2 L746.0,907.2 L746.6,907.2 L747.2,907.1 L747.9,907.1 L748.5,907.1 L749.1,907.1 L749.8,907.0 L750.4,907.0 L751.0,907.0 L751.7,907.0 L752.3,906.9 L752.9,906.9 L753.6,906.9 L754.2,906.9 L754.8,906.8 L755.5,906.8 L756.1,906.8 L756.7,906.8 L757.4,906.8 L758.0,906.7 L758.6,906.7 L759.3,906.7 L759.9,906.7 L760.5,906.7 L761.2,906.6 L761.8,906.6 L762.4,906.6 L763.1,906.6 L763.7,906.6 L764.3,906.5 L765.0,906.5 L765.6,906.5 L766.2,906.5 L766.9,906.5 L767.5,906.4 L768.1,906.4 L768.8,906.4 L769.4,906.4 L770.0,906.4 L770.7,906.3 L771.3,906.3 L771.9,906.3 L772.6,906.3 L773.2,906.3 L773.8,906.3 L774.5,906.2 L775.1,906.2 L775.7,906.2 L776.4,906.2 L777.0,906.2 L777.6,906.2 L778.3,906.2 L778.9,906.1 L779.5,906.1 L780.2,906.1 L780.8,906.1 L781.4,906.1 L782.1,906.1 L782.7,906.1 L783.3,906.0 L784.0,906.0 L784.6,906.0 L785.2,906.0 L785.9,906.0 L786.5,906.0 L787.1,906.0 L787.8,906.0 L788.4,906.0 L789.1,906.0 L789.7,905.9 L790.3,905.9 L791.0,905.9 L791.6,905.9 L792.2,905.9 L792.9,905.9 L793.5,905.9 L794.1,905.9 L794.8,905.9 L795.4,905.9 L796.0,905.9 L796.7,905.9 L797.3,905.9 L797.9,905.9 L798.6,905.9 L799.2,905.8 L799.8,905.8 L800.5,905.8 L801.1,905.8 L801.7,905.8 L802.4,905.8 L803.0,905.8 L803.6,905.8 L804.3,905.8 L804.9,905.8 L805.5,905.8 L806.2,905.8 L806.8,905.8 L807.4,905.8 L808.1,905.8 L808.7,905.8 L809.3,905.8 L810.0,905.8 L810.6,905.8 L811.2,905.8 L811.9,905.7 L812.5,905.7 L813.1,905.7 L813.8,905.7 L814.4,905.7 L815.0,905.7 L815.7,905.7 L816.3,905.7 L816.9,905.7 L817.6,905.7 L818.2,905.7 L818.8,905.7 L819.5,905.7 L820.1,905.7 L820.7,905.6 L821.4,905.6 L822.0,905.6 L822.6,905.6 L823.3,905.6 L823.9,905.6 L824.5,905.6 L825.2,905.6 L825.8,905.6 L826.4,905.6 L827.1,905.5 L827.7,905.5 L828.3,905.5 L829.0,905.5 L829.6,905.5 L830.2,905.5 L830.9,905.5 L831.5,905.5 L832.1,905.5 L832.8,905.5 L833.4,905.4 L834.0,905.4 L834.7,905.4 L835.3,905.4 L835.9,905.4 L836.6,905.4 L837.2,905.4 L837.8,905.4 L838.5,905.3 L839.1,905.3 L839.7,905.3 L840.4,905.3 L841.0,905.3 L841.6,905.3 L842.3,905.3 L842.9,905.3 L843.5,905.2 L844.2,905.2 L844.8,905.2 L845.5,905.2 L846.1,905.2 L846.7,905.2 L847.4,905.2 L848.0,905.1 L848.6,905.1 L849.3,905.1 L849.9,905.1 L850.5,905.1 L851.2,905.1 L851.8,905.1 L852.4,905.1 L853.1,905.0 L853.7,905.0 L854.3,905.0 L855.0,905.0 L855.6,905.0 L856.2,905.0 L856.9,905.0 L857.5,904.9 L858.1,904.9 L858.8,904.9 L859.4,904.9 L860.0,904.9 L860.7,904.9 L861.3,904.8 L861.9,904.8 L862.6,904.8 L863.2,904.8 L863.8,904.8 L864.5,904.8 L865.1,904.8 L865.7,904.7 L866.4,904.7 L867.0,904.7 L867.6,904.7 L868.3,904.7 L868.9,904.7 L869.5,904.7 L870.2,904.6 L870.8,904.6 L871.4,904.6 L872.1,904.6 L872.7,904.6 L875.7,904.5 L878.6,904.4 L881.6,904.4 L884.5,904.3 L887.5,904.2 L890.5,904.2 L893.4,904.1 L896.4,904.0 L899.3,904.0 L902.3,903.9 L905.3,903.8 L908.2,903.8 L911.2,903.7 L914.1,903.7 L917.1,903.6 L920.1,903.5 L923.0,903.5 L926.0,903.4 L929.0,903.3 L931.9,903.3 L934.9,903.2 L937.8,903.1 L940.8,903.1 L943.8,903.0 L946.7,902.9 L949.7,902.9 L952.6,902.8 L955.6,902.7 L958.6,902.7 L961.5,902.6 L964.5,902.5 L967.4,902.5 L970.4,902.4 L973.4,902.4 L976.3,902.3 L979.3,902.2 L982.2,902.2 L985.2,902.1 L988.2,902.0 L991.1,902.0 L994.1,901.9 L997.0,901.8 L1000.0,901.8 L1003.0,901.7 L1005.9,901.7 L1008.9,901.6 L1011.8,901.5 L1014.8,901.5 L1017.8,901.4 L1020.7,901.4 L1023.7,901.3 L1026.7,901.2 L1029.6,901.2 L1032.6,901.1 L1035.5,901.1 L1038.5,901.0 L1041.5,900.9 L1044.4,900.9 L1047.4,900.8 L1050.3,900.7 L1053.3,900.6 L1056.3,900.6 L1059.2,900.5 L1062.2,900.4 L1065.1,900.3 L1068.1,900.2 L1071.1,900.1 L1074.0,900.0 L1077.0,899.9 L1079.9,899.8 L1082.9,899.6 L1085.9,899.5 L1088.8,899.4 L1091.8,899.2 L1094.7,899.0 L1097.7,898.8 L1100.7,898.6 L1103.6,898.4 L1106.6,898.2 L1109.5,898.0 L1112.5,897.8 L1115.5,897.5 L1118.4,897.3 L1121.4,897.0 L1124.3,896.6 L1127.3,896.3 L1130.3,895.9 L1133.2,895.4 L1136.2,895.0 L1139.2,894.6 L1142.1,894.2 L1145.1,893.8 L1148.0,893.5 L1151.0,893.2 L1154.0,893.0 L1156.9,892.8 L1159.9,892.9 L1162.8,893.1 L1165.8,893.5 L1168.8,894.0 L1171.7,894.5 L1174.7,895.2 L1177.6,895.8 L1180.6,896.5 L1183.6,897.1 L1186.5,897.7 L1189.5,898.3 L1192.4,898.7 L1195.4,899.1 L1198.4,899.5 L1201.3,900.0 L1204.3,900.4 L1207.2,900.8 L1210.2,901.2 L1213.2,901.5 L1216.1,901.8 L1219.1,902.1 L1222.0,902.3 L1225.0,902.5 L1228.0,902.6 L1230.9,902.8 L1233.9,902.9 L1236.9,903.0 L1239.8,903.1 L1242.8,903.2 L1245.7,903.3 L1248.7,903.3 L1251.7,903.4 L1254.6,903.4 L1257.6,903.5 L1260.5,903.5 L1263.5,903.5 L1266.5,903.5 L1269.4,903.5 L1272.4,903.5 L1275.3,903.5 L1278.3,903.5 L1281.3,903.5 L1284.2,903.5 L1287.2,903.5 L1290.1,903.5 L1293.1,903.5 L1296.1,903.5 L1299.0,903.5 L1302.0,903.5 L1304.9,903.5 L1307.9,903.5 L1310.9,903.5 L1313.8,903.5 L1316.8,903.5 L1319.7,903.5 L1322.7,903.5 L1325.7,903.5 L1328.6,903.5 L1331.6,903.5 L1334.6,903.5 L1337.5,903.5 L1340.5,903.5 L1343.4,903.5 L1346.4,903.5 L1349.4,903.5 L1352.3,903.5 L1355.3,903.5 L1358.2,903.5 L1361.2,903.5 L1364.2,903.5 L1367.1,903.5 L1370.1,903.5 L1373.0,903.5 L1376.0,903.5 L1379.0,903.5 L1381.9,903.5 L1384.9,903.5 L1387.8,903.5 L1390.8,903.5 L1393.8,903.5 L1396.7,903.5 L1399.7,903.5 L1402.6,903.5 L1405.6,903.5 L1408.6,903.5 L1411.5,903.5 L1414.5,903.5 L1417.4,903.5 L1420.4,903.5 L1423.4,903.5 L1426.3,903.5 L1429.3,903.5 L1432.2,903.5 L1435.2,903.5 L1438.2,903.5 L1441.1,903.4 L1444.1,903.4 L1447.1,903.4 L1450.0,903.4 L1453.0,903.4 L1455.9,903.4 L1458.9,903.4 L1461.9,903.4 L1464.8,903.4 L1467.8,903.4 L1470.7,903.4 L1473.7,903.4 L1476.7,903.4 L1479.6,903.4 L1482.6,903.4 L1485.5,903.4 L1488.5,903.4 L1491.5,903.4 L1494.4,903.4 L1497.4,903.4 L1500.3,903.4 L1503.3,903.4 L1506.3,903.4 L1509.2,903.4 L1512.2,903.4 L1515.1,903.4 L1518.1,903.4 L1521.1,903.4 L1524.0,903.4 L1527.0,903.4 L1529.9,903.3 L1532.9,903.3 L1535.9,903.3 L1538.8,903.3 L1541.8,903.3 L1544.8,903.3 L1547.7,903.3 L1550.7,903.3 L1553.6,903.3 L1556.6,903.3 L1559.6,903.3 L1562.5,903.3 L1565.5,903.3 L1568.4,903.3 L1571.4,903.3 L1574.4,903.3 L1577.3,903.3 L1580.3,903.3 L1583.2,903.3 L1586.2,903.2 L1589.2,903.2 L1592.1,903.2 L1595.1,903.2 L1598.0,903.2 L1601.0,903.2 L1604.0,903.2 L1606.9,903.2 L1609.9,903.2 L1612.8,903.2 L1615.8,903.2 L1618.8,903.2 L1621.7,903.1 L1624.7,903.1 L1627.6,903.1 L1630.6,903.1 L1633.6,903.1 L1636.5,903.1 L1639.5,903.1 L1642.5,903.1 L1645.4,903.1 L1648.4,903.0 L1651.3,903.0 L1654.3,903.0 L1657.3,903.0 L1660.2,903.0 L1663.2,903.0 L1666.1,903.0 L1669.1,903.0 L1672.1,902.9 L1675.0,902.9 L1678.0,902.9 L1680.9,902.9 L1683.9,902.9 L1686.9,902.9 L1689.8,902.9 L1692.8,902.8 L1695.7,902.8 L1698.7,902.8 L1701.7,902.8 L1704.6,902.8 L1707.6,902.8 L1710.5,902.7 L1713.5,902.7 L1716.5,902.7 L1719.4,902.7 L1722.4,902.6 L1725.3,902.6 L1728.3,902.6 L1731.3,902.5 L1734.2,902.5 L1737.2,902.5 L1740.1,902.5 L1743.1,902.4 L1746.1,902.4 L1749.0,902.4 L1752.0,902.3 L1755.0,902.3 L1757.9,902.2 L1760.9,902.2 L1763.8,902.2 L1766.8,902.1 L1769.8,902.1 L1772.7,902.0 L1775.7,902.0 L1778.6,901.9 L1781.6,901.8 L1784.6,901.7 L1787.5,901.6 L1790.5,901.5 L1793.4,901.5 L1796.4,901.4 L1799.4,901.3 L1802.3,901.2 L1805.3,901.1 L1808.2,901.0 L1811.2,900.9 L1814.2,900.8 L1817.1,900.7 L1820.1,900.6 L1823.0,900.5 L1826.0,900.5 L1829.0,900.4 L1831.9,900.4 L1834.9,900.3 L1837.8,900.3 L1840.8,900.3 L1843.8,900.3 L1846.7,900.3 L1849.7,900.3 L1852.7,900.3 L1855.6,900.3 L1858.6,900.3 L1861.5,900.3 L1864.5,900.4 L1867.5,900.4 L1870.4,900.4 L1873.4,900.5 L1876.3,900.5 L1879.3,900.5 L1882.3,900.6 L1885.2,900.6 L1888.2,900.7 L1891.1,900.7 L1894.1,900.8 L1897.1,900.8 L1900.0,900.9 L1903.0,900.9 L1905.9,901.0 L1908.9,901.0 L1911.9,901.0 L1914.8,901.1 L1917.8,901.1 L1920.7,901.2 L1923.7,901.2 L1926.7,901.3 L1929.6,901.3 L1932.6,901.3 L1935.5,901.4 L1938.5,901.4 L1941.5,901.5 L1944.4,901.5 L1947.4,901.6 L1950.4,901.6 L1953.3,901.7 L1956.3,901.7 L1959.2,901.8 L1962.2,901.8 L1965.2,901.9 L1968.1,901.9 L1971.1,902.0 L1974.0,902.0 L1977.0,902.1 L1980.0,902.1 L1982.9,902.2 L1985.9,902.2 L1988.8,902.3 L1991.8,902.3 L1994.8,902.4 L1997.7,902.4 L2000.7,902.5 L2003.6,902.5 L2006.6,902.6 L2009.6,902.7 L2012.5,902.7 L2015.5,902.8 L2018.4,902.9 L2021.4,902.9 L2024.4,903.0 L2027.3,903.0 L2030.3,903.1 L2033.2,903.2 L2036.2,903.2 L2039.2,903.3 L2042.1,903.3 L2045.1,903.4 L2048.0,903.4 L2051.0,903.4 L2054.0,903.5 L2056.9,903.5 L2059.9,903.5 L2062.9,903.5 L2065.8,903.5 L2068.8,903.5 L2071.7,903.5 L2074.7,903.4 L2077.7,903.4 L2080.6,903.3 L2083.6,903.3 L2086.5,903.2 L2089.5,903.2 L2092.5,903.1 L2095.4,903.1 L2098.4,903.0 L2101.3,902.9 L2104.3,902.9 L2107.3,902.8 L2110.2,902.7 L2113.2,902.7 L2116.1,902.6 L2119.1,902.5 L2122.1,902.5 L2125.0,902.4 L2128.0,902.4 L2130.9,902.3 L2133.9,902.3 L2136.9,902.3 L2139.8,902.2 L2142.8,902.2 L2145.7,902.2 L2148.7,902.2 L2151.7,902.1 L2154.6,902.1 L2157.6,902.1 L2160.6,902.1 L2163.5,902.0 L2166.5,902.0 L2169.4,902.0 L2172.4,902.0 L2175.4,902.0 L2178.3,901.9 L2181.3,901.9 L2184.2,901.9 L2187.2,901.9 L2190.2,901.9 L2193.1,901.9 L2196.1,901.9 L2199.0,901.8 L2202.0,901.8"/>
<path id="c-g1" stroke="#00ff00" stroke-width="11" stroke-dasharray="10.1 8.125" stroke-dashoffset="1.47" d="M313.0,42.0 L313.6,46.6 L314.2,51.3 L314.9,55.8 L315.5,60.4 L316.1,64.9 L316.7,69.4 L317.4,73.9 L318.0,78.3 L318.6,82.7 L319.2,87.1 L319.9,91.5 L320.5,95.8 L321.1,100.1 L321.7,104.4 L322.3,108.6 L323.0,112.8 L323.6,117.0 L324.2,121.2 L324.8,125.3 L325.5,129.4 L326.1,133.5 L326.7,137.5 L327.3,141.5 L327.9,145.5 L328.6,149.5 L329.2,153.4 L329.8,157.4 L330.4,161.3 L331.1,165.1 L331.7,169.0 L332.3,172.8 L332.9,176.6 L333.5,180.3 L334.2,184.1 L334.8,187.8 L335.4,191.5 L336.0,195.2 L336.7,198.8 L337.3,202.4 L337.9,206.0 L338.5,209.6 L339.2,213.2 L339.8,216.7 L340.4,220.2 L341.0,223.7 L341.6,227.1 L342.3,230.6 L342.9,234.0 L343.5,237.4 L344.1,240.7 L344.8,244.1 L345.4,247.4 L346.0,250.7 L346.6,254.0 L347.2,257.3 L347.9,260.5 L348.5,263.7 L349.1,266.9 L349.7,270.1 L350.4,273.3 L351.0,276.4 L351.6,279.5 L352.2,282.6 L352.8,285.7 L353.5,288.7 L354.1,291.8 L354.7,294.8 L355.3,297.8 L356.0,300.7 L356.6,303.7 L357.2,306.6 L357.8,309.6 L358.5,312.5 L359.1,315.3 L359.7,318.2 L360.3,321.0 L360.9,323.9 L361.6,326.7 L362.2,329.4 L362.8,332.2 L363.4,335.0 L364.1,337.7 L364.7,340.4 L365.3,343.1 L365.9,345.8 L366.5,348.4 L367.2,351.1 L367.8,353.7 L368.4,356.3 L369.0,358.9 L369.7,361.5 L370.3,364.1 L370.9,366.6 L371.5,369.1 L372.1,371.6 L372.8,374.1 L373.4,376.6 L374.0,379.1 L374.6,381.5 L375.3,383.9 L375.9,386.3 L376.5,388.7 L377.1,391.1 L377.8,393.5 L378.4,395.8 L379.0,398.2 L379.6,400.5 L380.2,402.8 L380.9,405.1 L381.5,407.4 L382.1,409.6 L382.7,411.9 L383.4,414.1 L384.0,416.3 L384.6,418.5 L385.2,420.7 L385.8,422.9 L386.5,425.0 L387.1,427.2 L387.7,429.3 L388.3,431.4 L389.0,433.5 L389.6,435.6 L390.2,437.7 L390.8,439.7 L391.4,441.8 L392.1,443.8 L392.7,445.8 L393.3,447.8 L393.9,449.8 L394.6,451.8 L395.2,453.8 L395.8,455.7 L396.4,457.7 L397.1,459.6 L397.7,461.5 L398.3,463.4 L398.9,465.3 L399.5,467.2 L400.2,469.1 L400.8,470.9 L401.4,472.8 L402.0,474.6 L402.7,476.4 L403.3,478.2 L403.9,480.0 L404.5,481.8 L405.1,483.6 L405.8,485.3 L406.4,487.1 L407.0,488.8 L407.6,490.6 L408.3,492.3 L408.9,494.0 L409.5,495.7 L410.1,497.4 L410.7,499.0 L411.4,500.7 L412.0,502.3 L412.6,504.0 L413.2,505.6 L413.9,507.2 L414.5,508.8 L415.1,510.4 L415.7,512.0 L416.4,513.6 L417.0,515.1 L417.6,516.7 L418.2,518.2 L418.8,519.8 L419.5,521.3 L420.1,522.8 L420.7,524.3 L421.3,525.8 L422.0,527.3 L422.6,528.8 L423.2,530.2 L423.8,531.7 L424.4,533.1 L425.1,534.6 L425.7,536.0 L426.3,537.4 L426.9,538.8 L427.6,540.2 L428.2,541.6 L428.8,543.0 L429.4,544.4 L430.0,545.7 L430.7,547.1 L431.3,548.4 L431.9,549.8 L432.5,551.1 L433.2,552.4 L433.8,553.7 L434.4,555.0 L435.0,556.3 L435.7,557.6 L436.3,558.9 L436.9,560.2 L437.5,561.4 L438.1,562.7 L438.8,563.9 L439.4,565.2 L440.0,566.4 L440.6,567.6 L441.3,568.8 L441.9,570.0 L442.5,571.2 L443.1,572.4 L443.7,573.6 L444.4,574.8 L445.0,575.9 L445.6,577.1 L446.2,578.2 L446.9,579.4 L447.5,580.5 L448.1,581.6 L448.7,582.7 L449.3,583.9 L450.0,585.0 L450.6,586.1 L451.2,587.2 L451.8,588.2 L452.5,589.3 L453.1,590.4 L453.7,591.4 L454.3,592.5 L455.0,593.6 L455.6,594.6 L456.2,595.6 L456.8,596.7 L457.4,597.7 L458.1,598.7 L458.7,599.7 L459.3,600.7 L459.9,601.7 L460.6,602.7 L461.2,603.7 L461.8,604.6 L462.4,605.6 L463.0,606.6 L463.7,607.5 L464.3,608.5 L464.9,609.4 L465.5,610.4 L466.2,611.3 L466.8,612.2 L467.4,613.2 L468.0,614.1 L468.6,615.0 L469.3,615.9 L469.9,616.8 L470.5,617.7 L471.1,618.5 L471.8,619.4 L472.4,620.3 L473.0,621.2 L473.6,622.0 L474.3,622.9 L474.9,623.7 L475.5,624.6 L476.1,625.4 L476.7,626.3 L477.4,627.1 L478.0,627.9 L478.6,628.7 L479.2,629.5 L479.9,630.3 L480.5,631.1 L481.1,631.9 L481.7,632.7 L482.3,633.5 L483.0,634.3 L483.6,635.1 L484.2,635.8 L484.8,636.6 L485.5,637.4 L486.1,638.1 L486.7,638.9 L487.3,639.6 L487.9,640.4 L488.6,641.1 L489.2,641.8 L489.8,642.6 L490.4,643.3 L491.1,644.0 L491.7,644.7 L492.3,645.4 L492.9,646.1 L493.6,646.8 L494.2,647.5 L494.8,648.2 L495.4,648.9 L496.0,649.6 L496.7,650.2 L497.3,650.9 L497.9,651.6 L498.5,652.2 L499.2,652.9 L499.8,653.6 L500.4,654.2 L501.0,654.9 L501.6,655.5 L502.3,656.1 L502.9,656.8 L503.5,657.4 L504.1,658.0 L504.8,658.6 L505.4,659.3 L506.0,659.9 L506.6,660.5 L507.2,661.1 L507.9,661.7 L508.5,662.3 L509.1,662.9 L509.7,663.5 L510.4,664.0 L511.0,664.6 L511.6,665.2 L512.2,665.8 L512.9,666.3 L513.5,666.9 L514.1,667.5 L514.7,668.0 L515.3,668.6 L516.0,669.1 L516.6,669.7 L517.2,670.2 L517.8,670.8 L518.5,671.3 L519.1,671.8 L519.7,672.4 L520.3,672.9 L520.9,673.4 L521.6,673.9 L522.2,674.5 L522.8,675.0 L523.4,675.5 L524.1,676.0 L524.7,676.5 L525.3,677.0 L525.9,677.5 L526.5,678.0 L527.2,678.5 L527.8,679.0 L528.4,679.4 L529.0,679.9 L529.7,680.4 L530.3,680.9 L530.9,681.4 L531.5,681.8 L532.2,682.3 L532.8,682.7 L533.4,683.2 L534.0,683.7 L534.6,684.1 L535.3,684.6 L535.9,685.0 L536.5,685.5 L537.1,685.9 L537.8,686.3 L538.4,686.8 L539.0,687.2 L539.6,687.6 L540.2,688.1 L540.9,688.5 L541.5,688.9 L542.1,689.3 L542.7,689.7 L543.4,690.2 L544.0,690.6 L544.6,691.0 L545.2,691.4 L545.8,691.8 L546.5,692.2 L547.1,692.6 L547.7,693.0 L548.3,693.4 L549.0,693.8 L549.6,694.1 L550.2,694.5 L550.8,694.9 L551.5,695.3 L552.1,695.7 L552.7,696.0 L553.3,696.4 L553.9,696.8 L554.6,697.2 L555.2,697.5 L555.8,697.9 L556.4,698.2 L557.1,698.6 L557.7,699.0 L558.3,699.3 L558.9,699.7 L559.5,700.0 L560.2,700.4 L560.8,700.7 L561.4,701.0 L562.0,701.4 L562.7,701.7 L563.3,702.1 L563.9,702.4 L564.5,702.7 L565.1,703.0 L565.8,703.4 L566.4,703.7 L567.0,704.0 L567.6,704.3 L568.3,704.7 L568.9,705.0 L569.5,705.3 L570.1,705.6 L570.8,705.9 L571.4,706.2 L572.0,706.5 L572.6,706.8 L573.2,707.1 L573.9,707.4 L574.5,707.7 L575.1,708.0 L575.7,708.3 L576.4,708.6 L577.0,708.9 L577.6,709.2 L578.2,709.5 L578.8,709.8 L579.5,710.0 L580.1,710.3 L580.7,710.6 L581.3,710.9 L582.0,711.1 L582.6,711.4 L583.2,711.7 L583.8,712.0 L584.4,712.2 L585.1,712.5 L585.7,712.8 L586.3,713.0 L586.9,713.3 L587.6,713.5 L588.2,713.8 L588.8,714.1 L589.4,714.3 L590.1,714.6 L590.7,714.8 L591.3,715.1 L591.9,715.3 L592.5,715.6 L593.2,715.8 L593.8,716.1 L594.4,716.3 L595.0,716.5 L595.7,716.8 L596.3,717.0 L596.9,717.2 L597.5,717.5 L598.1,717.7 L598.8,717.9 L599.4,718.2 L600.0,718.4 L600.6,718.6 L601.3,718.8 L601.9,719.1 L602.5,719.3 L603.1,719.5 L603.7,719.7 L604.4,719.9 L605.0,720.2 L605.6,720.4 L606.2,720.6 L606.9,720.8 L607.5,721.0 L608.1,721.2 L608.7,721.4 L609.4,721.6 L610.0,721.8 L610.6,722.0 L611.2,722.2 L611.8,722.4 L612.5,722.6 L613.1,722.8 L613.7,723.0 L614.3,723.2 L615.0,723.4 L615.6,723.6 L616.2,723.8 L616.8,724.0 L617.4,724.2 L618.1,724.4 L618.7,724.6 L619.3,724.8 L619.9,724.9 L620.6,725.1 L621.2,725.3 L621.8,725.5 L622.4,725.7 L623.0,725.9 L623.7,726.0 L624.3,726.2 L624.9,726.4 L625.5,726.6 L626.2,726.7 L626.8,726.9 L627.4,727.1 L628.0,727.2 L628.7,727.4 L629.3,727.6 L629.9,727.7 L630.5,727.9 L631.1,728.1 L631.8,728.2 L632.4,728.4 L633.0,728.6 L633.6,728.7 L634.3,728.9 L634.9,729.0 L635.5,729.2 L636.1,729.3 L636.7,729.5 L637.4,729.7 L638.0,729.8 L638.6,730.0 L639.2,730.1 L639.9,730.3 L640.5,730.4 L641.1,730.6 L641.7,730.7 L642.3,730.8 L643.0,731.0 L643.6,731.1 L644.2,731.3 L644.8,731.4 L645.5,731.6 L646.1,731.7 L646.7,731.8 L647.3,732.0 L647.9,732.1 L648.6,732.3 L649.2,732.4 L649.8,732.5 L650.4,732.7 L651.1,732.8 L651.7,732.9 L652.3,733.1 L652.9,733.2 L653.6,733.3 L654.2,733.4 L654.8,733.6 L655.4,733.7 L656.0,733.8 L656.7,733.9 L657.3,734.1 L657.9,734.2 L658.5,734.3 L659.2,734.4 L659.8,734.6 L660.4,734.7 L661.0,734.8 L661.6,734.9 L662.3,735.0 L662.9,735.2 L663.5,735.3 L664.1,735.4 L664.8,735.5 L665.4,735.6 L666.0,735.7 L666.6,735.8 L667.2,736.0 L667.9,736.1 L668.5,736.2 L669.1,736.3 L669.7,736.4 L670.4,736.5 L671.0,736.6 L671.6,736.7 L672.2,736.8 L672.9,736.9 L673.5,737.0 L674.1,737.1 L674.7,737.2 L675.3,737.3 L676.0,737.5 L676.6,737.6 L677.2,737.7 L677.8,737.8 L678.5,737.9 L679.1,738.0 L679.7,738.1 L680.3,738.1 L680.9,738.2 L681.6,738.3 L682.2,738.4 L682.8,738.5 L683.4,738.6 L684.1,738.7 L684.7,738.8 L685.3,738.9 L685.9,739.0 L686.5,739.1 L687.2,739.2 L687.8,739.3 L688.4,739.4 L689.0,739.5 L689.7,739.5 L690.3,739.6 L690.9,739.7 L691.5,739.8 L692.2,739.9 L692.8,740.0 L693.4,740.1 L694.0,740.1 L694.6,740.2 L695.3,740.3 L695.9,740.4 L696.5,740.5 L697.1,740.6 L697.8,740.6 L698.4,740.7 L699.0,740.8 L699.6,740.9 L700.2,741.0 L700.9,741.0 L701.5,741.1 L702.1,741.2 L702.7,741.3 L703.4,741.3 L704.0,741.4 L704.6,741.5 L705.2,741.6 L705.8,741.6 L706.5,741.7 L707.1,741.8 L707.7,741.9 L708.3,741.9 L709.0,742.0 L709.6,742.1 L710.2,742.2 L710.8,742.2 L711.5,742.3 L712.1,742.4 L712.7,742.4 L713.3,742.5 L713.9,742.6 L714.6,742.6 L715.2,742.7 L715.8,742.8 L716.4,742.8 L717.1,742.9 L717.7,743.0 L718.3,743.0 L718.9,743.1 L719.5,743.2 L720.2,743.2 L720.8,743.3 L721.4,743.4 L722.0,743.4 L722.7,743.5 L723.3,743.6 L723.9,743.6 L724.5,743.7 L725.1,743.7 L725.8,743.8 L726.4,743.9 L727.0,743.9 L727.6,744.0 L728.3,744.0 L728.9,744.1 L729.5,744.2 L730.1,744.2 L730.8,744.3 L731.4,744.3 L732.0,744.4 L732.6,744.4 L733.2,744.5 L733.9,744.5 L734.5,744.6 L735.1,744.7 L735.7,744.7 L736.4,744.8 L737.0,744.8 L737.6,744.9 L738.2,744.9 L738.8,745.0 L739.5,745.0 L740.1,745.1 L740.7,745.1 L741.3,745.2 L742.0,745.2 L742.6,745.3 L743.2,745.3 L743.8,745.4 L744.4,745.4 L745.1,745.5 L745.7,745.5 L746.3,745.6 L746.9,745.6 L747.6,745.7 L748.2,745.7 L748.8,745.8 L749.4,745.8 L750.1,745.9 L750.7,745.9 L751.3,746.0 L751.9,746.0 L752.5,746.1 L753.2,746.1 L753.8,746.1 L754.4,746.2 L755.0,746.2 L755.7,746.3 L756.3,746.3 L756.9,746.4 L757.5,746.4 L758.1,746.5 L758.8,746.5 L759.4,746.5 L760.0,746.6 L760.6,746.6 L761.3,746.7 L761.9,746.7 L762.5,746.7 L763.1,746.8 L763.7,746.8 L764.4,746.9 L765.0,746.9 L765.6,747.0 L766.2,747.0 L766.9,747.0 L767.5,747.1 L768.1,747.1 L768.7,747.1 L769.4,747.2 L770.0,747.2 L770.6,747.3 L771.2,747.3 L771.8,747.3 L772.5,747.4 L773.1,747.4 L773.7,747.4 L774.3,747.5 L775.0,747.5 L775.6,747.6 L776.2,747.6 L776.8,747.6 L777.4,747.7 L778.1,747.7 L778.7,747.7 L779.3,747.8 L779.9,747.8 L780.6,747.8 L781.2,747.9 L781.8,747.9 L782.4,747.9 L783.0,748.0 L783.7,748.0 L784.3,748.0 L784.9,748.1 L785.5,748.1 L786.2,748.1 L786.8,748.2 L787.4,748.2 L788.0,748.2 L788.7,748.3 L789.3,748.3 L789.9,748.3 L790.5,748.3 L791.1,748.4 L791.8,748.4 L792.4,748.4 L793.0,748.5 L793.6,748.5 L794.3,748.5 L794.9,748.6 L795.5,748.6 L796.1,748.6 L796.7,748.6 L797.4,748.7 L798.0,748.7 L798.6,748.7 L799.2,748.8 L799.9,748.8 L800.5,748.8 L801.1,748.8 L801.7,748.9 L802.3,748.9 L803.0,748.9 L803.6,748.9 L804.2,749.0 L804.8,749.0 L805.5,749.0 L806.1,749.1 L806.7,749.1 L807.3,749.1 L808.0,749.1 L808.6,749.2 L809.2,749.2 L809.8,749.2 L810.4,749.2 L811.1,749.3 L811.7,749.3 L812.3,749.3 L812.9,749.3 L813.6,749.3 L814.2,749.4 L814.8,749.4 L815.4,749.4 L816.0,749.4 L816.7,749.5 L817.3,749.5 L817.9,749.5 L818.5,749.5 L819.2,749.6 L819.8,749.6 L820.4,749.6 L821.0,749.6 L821.6,749.6 L822.3,749.7 L822.9,749.7 L823.5,749.7 L824.1,749.7 L824.8,749.8 L825.4,749.8 L826.0,749.8 L826.6,749.8 L827.3,749.8 L827.9,749.9 L828.5,749.9 L829.1,749.9 L829.7,749.9 L830.4,749.9 L831.0,750.0 L831.6,750.0 L832.2,750.0 L832.9,750.0 L833.5,750.0 L834.1,750.1 L834.7,750.1 L835.3,750.1 L836.0,750.1 L836.6,750.1 L837.2,750.2 L837.8,750.2 L838.5,750.2 L839.1,750.2 L839.7,750.2 L840.3,750.2 L840.9,750.3 L841.6,750.3 L842.2,750.3 L842.8,750.3 L843.4,750.3 L844.1,750.4 L844.7,750.4 L845.3,750.4 L845.9,750.4 L846.6,750.4 L847.2,750.4 L847.8,750.5 L848.4,750.5 L849.0,750.5 L849.7,750.5 L850.3,750.5 L850.9,750.5 L851.5,750.6 L852.2,750.6 L852.8,750.6 L853.4,750.6 L854.0,750.6 L854.6,750.6 L855.3,750.6 L855.9,750.7 L856.5,750.7 L857.1,750.7 L857.8,750.7 L858.4,750.7 L859.0,750.7 L859.6,750.8 L860.2,750.8 L860.9,750.8 L861.5,750.8 L862.1,750.8 L862.7,750.8 L863.4,750.8 L864.0,750.9 L864.6,750.9 L865.2,750.9 L865.9,750.9 L866.5,750.9 L867.1,750.9 L867.7,750.9 L868.3,750.9 L869.0,751.0 L869.6,751.0 L870.2,751.0 L870.8,751.0 L871.5,751.0 L872.1,751.0 L872.7,751.0 L877.1,751.1 L881.6,751.2 L886.0,751.3 L890.5,751.4 L894.9,751.5 L899.4,751.5 L903.8,751.6 L908.3,751.7 L912.7,751.7 L917.2,751.8 L921.6,751.8 L926.0,751.9 L930.5,751.9 L934.9,752.0 L939.4,752.0 L943.8,752.1 L948.3,752.1 L952.7,752.2 L957.2,752.2 L961.6,752.2 L966.1,752.3 L970.5,752.3 L975.0,752.3 L979.4,752.4 L983.8,752.4 L988.3,752.4 L992.7,752.4 L997.2,752.5 L1001.6,752.5 L1006.1,752.5 L1010.5,752.5 L1015.0,752.6 L1019.4,752.6 L1023.9,752.6 L1028.3,752.6 L1032.7,752.6 L1037.2,752.7 L1041.6,752.7 L1046.1,752.7 L1050.5,752.7 L1055.0,752.7 L1059.4,752.7 L1063.9,752.7 L1068.3,752.8 L1072.8,752.8 L1077.2,752.8 L1081.7,752.8 L1086.1,752.8 L1090.5,752.8 L1095.0,752.8 L1099.4,752.8 L1103.9,752.8 L1108.3,752.8 L1112.8,752.8 L1117.2,752.9 L1121.7,752.9 L1126.1,752.9 L1130.6,752.9 L1135.0,752.9 L1139.4,752.9 L1143.9,752.9 L1148.3,752.9 L1152.8,752.9 L1157.2,752.9 L1161.7,752.9 L1166.1,752.9 L1170.6,752.9 L1175.0,752.9 L1179.5,752.9 L1183.9,752.9 L1188.4,752.9 L1192.8,752.9 L1197.2,752.9 L1201.7,752.9 L1206.1,752.9 L1210.6,752.9 L1215.0,752.9 L1219.5,752.9 L1223.9,753.0 L1228.4,753.0 L1232.8,753.0 L1237.3,753.0 L1241.7,753.0 L1246.1,753.0 L1250.6,753.0 L1255.0,753.0 L1259.5,753.0 L1263.9,753.0 L1268.4,753.0 L1272.8,753.0 L1277.3,753.0 L1281.7,753.0 L1286.2,753.0 L1290.6,753.0 L1295.1,753.0 L1299.5,753.0 L1303.9,753.0 L1308.4,753.0 L1312.8,753.0 L1317.3,753.0 L1321.7,753.0 L1326.2,753.0 L1330.6,753.0 L1335.1,753.0 L1339.5,753.0 L1344.0,753.0 L1348.4,753.0 L1352.8,753.0 L1357.3,753.0 L1361.7,753.0 L1366.2,753.0 L1370.6,753.0 L1375.1,753.0 L1379.5,753.0 L1384.0,753.0 L1388.4,753.0 L1392.9,753.0 L1397.3,753.0 L1401.8,753.0 L1406.2,753.0 L1410.6,753.0 L1415.1,753.0 L1419.5,753.0 L1424.0,753.0 L1428.4,753.0 L1432.9,753.0 L1437.3,753.0 L1441.8,753.0 L1446.2,753.0 L1450.7,753.0 L1455.1,753.0 L1459.5,753.0 L1464.0,753.0 L1468.4,753.0 L1472.9,753.0 L1477.3,753.0 L1481.8,753.0 L1486.2,753.0 L1490.7,753.0 L1495.1,753.0 L1499.6,753.0 L1504.0,753.0 L1508.5,753.0 L1512.9,753.0 L1517.3,753.0 L1521.8,753.0 L1526.2,753.0 L1530.7,753.0 L1535.1,753.0 L1539.6,753.0 L1544.0,753.0 L1548.5,753.0 L1552.9,753.0 L1557.4,753.0 L1561.8,753.0 L1566.2,753.0 L1570.7,753.0 L1575.1,753.0 L1579.6,753.0 L1584.0,753.0 L1588.5,753.0 L1592.9,753.0 L1597.4,753.0 L1601.8,753.0 L1606.3,753.0 L1610.7,753.0 L1615.2,753.0 L1619.6,753.0 L1624.0,753.0 L1628.5,753.0 L1632.9,753.0 L1637.4,753.0 L1641.8,753.0 L1646.3,753.0 L1650.7,753.0 L1655.2,753.0 L1659.6,753.0 L1664.1,753.0 L1668.5,753.0 L1672.9,753.0 L1677.4,753.0 L1681.8,753.0 L1686.3,753.0 L1690.7,753.0 L1695.2,753.0 L1699.6,753.0 L1704.1,753.0 L1708.5,753.0 L1713.0,753.0 L1717.4,753.0 L1721.9,753.0 L1726.3,753.0 L1730.7,753.0 L1735.2,753.0 L1739.6,753.0 L1744.1,753.0 L1748.5,753.0 L1753.0,753.0 L1757.4,753.0 L1761.9,753.0 L1766.3,753.0 L1770.8,753.0 L1775.2,753.0 L1779.6,753.0 L1784.1,753.0 L1788.5,753.0 L1793.0,753.0 L1797.4,753.0 L1801.9,753.0 L1806.3,753.0 L1810.8,753.0 L1815.2,753.0 L1819.7,753.0 L1824.1,753.0 L1828.6,753.0 L1833.0,753.0 L1837.4,753.0 L1841.9,753.0 L1846.3,753.0 L1850.8,753.0 L1855.2,753.0 L1859.7,753.0 L1864.1,753.0 L1868.6,753.0 L1873.0,753.0 L1877.5,753.0 L1881.9,753.0 L1886.3,753.0 L1890.8,753.0 L1895.2,753.0 L1899.7,753.0 L1904.1,753.0 L1908.6,753.0 L1913.0,753.0 L1917.5,753.0 L1921.9,753.0 L1926.4,753.0 L1930.8,753.0 L1935.3,753.0 L1939.7,753.0 L1944.1,753.0 L1948.6,753.0 L1953.0,753.0 L1957.5,753.0 L1961.9,753.0 L1966.4,753.0 L1970.8,753.0 L1975.3,753.0 L1979.7,753.0 L1984.2,753.0 L1988.6,753.0 L1993.0,753.0 L1997.5,753.0 L2001.9,753.0 L2006.4,753.0 L2010.8,753.0 L2015.3,753.0 L2019.7,753.0 L2024.2,753.0 L2028.6,753.0 L2033.1,753.0 L2037.5,753.0 L2042.0,753.0 L2046.4,753.0 L2050.8,753.0 L2055.3,753.0 L2059.7,753.0 L2064.2,753.0 L2068.6,753.0 L2073.1,753.0 L2077.5,753.0 L2082.0,753.0 L2086.4,753.0 L2090.9,753.0 L2095.3,753.0 L2099.7,753.0 L2104.2,753.0 L2108.6,753.0 L2113.1,753.0 L2117.5,753.0 L2122.0,753.0 L2126.4,753.0 L2130.9,753.0 L2135.3,753.0 L2139.8,753.0 L2144.2,753.0 L2148.7,753.0 L2153.1,753.0 L2157.5,753.0 L2162.0,753.0 L2166.4,753.0 L2170.9,753.0 L2175.3,753.0 L2179.8,753.0 L2184.2,753.0 L2188.7,753.0 L2193.1,753.0 L2197.6,753.0 L2202.0,753.0"/>
<path id="c-g2" stroke="#00ff00" stroke-width="11" stroke-dasharray="10.1 8.125" stroke-dashoffset="0.63" d="M313.0,1622.0 L313.6,1617.4 L314.2,1612.7 L314.9,1608.2 L315.5,1603.6 L316.1,1599.1 L316.7,1594.6 L317.4,1590.1 L318.0,1585.7 L318.6,1581.3 L319.2,1576.9 L319.9,1572.5 L320.5,1568.2 L321.1,1563.9 L321.7,1559.6 L322.3,1555.4 L323.0,1551.2 L323.6,1547.0 L324.2,1542.8 L324.8,1538.7 L325.5,1534.6 L326.1,1530.5 L326.7,1526.5 L327.3,1522.5 L327.9,1518.5 L328.6,1514.5 L329.2,1510.6 L329.8,1506.6 L330.4,1502.7 L331.1,1498.9 L331.7,1495.0 L332.3,1491.2 L332.9,1487.4 L333.5,1483.7 L334.2,1479.9 L334.8,1476.2 L335.4,1472.5 L336.0,1468.8 L336.7,1465.2 L337.3,1461.6 L337.9,1458.0 L338.5,1454.4 L339.2,1450.8 L339.8,1447.3 L340.4,1443.8 L341.0,1440.3 L341.6,1436.9 L342.3,1433.4 L342.9,1430.0 L343.5,1426.6 L344.1,1423.3 L344.8,1419.9 L345.4,1416.6 L346.0,1413.3 L346.6,1410.0 L347.2,1406.7 L347.9,1403.5 L348.5,1400.3 L349.1,1397.1 L349.7,1393.9 L350.4,1390.7 L351.0,1387.6 L351.6,1384.5 L352.2,1381.4 L352.8,1378.3 L353.5,1375.3 L354.1,1372.2 L354.7,1369.2 L355.3,1366.2 L356.0,1363.3 L356.6,1360.3 L357.2,1357.4 L357.8,1354.4 L358.5,1351.5 L359.1,1348.7 L359.7,1345.8 L360.3,1343.0 L360.9,1340.1 L361.6,1337.3 L362.2,1334.6 L362.8,1331.8 L363.4,1329.0 L364.1,1326.3 L364.7,1323.6 L365.3,1320.9 L365.9,1318.2 L366.5,1315.6 L367.2,1312.9 L367.8,1310.3 L368.4,1307.7 L369.0,1305.1 L369.7,1302.5 L370.3,1299.9 L370.9,1297.4 L371.5,1294.9 L372.1,1292.4 L372.8,1289.9 L373.4,1287.4 L374.0,1284.9 L374.6,1282.5 L375.3,1280.1 L375.9,1277.7 L376.5,1275.3 L377.1,1272.9 L377.8,1270.5 L378.4,1268.2 L379.0,1265.8 L379.6,1263.5 L380.2,1261.2 L380.9,1258.9 L381.5,1256.6 L382.1,1254.4 L382.7,1252.1 L383.4,1249.9 L384.0,1247.7 L384.6,1245.5 L385.2,1243.3 L385.8,1241.1 L386.5,1239.0 L387.1,1236.8 L387.7,1234.7 L388.3,1232.6 L389.0,1230.5 L389.6,1228.4 L390.2,1226.3 L390.8,1224.3 L391.4,1222.2 L392.1,1220.2 L392.7,1218.2 L393.3,1216.2 L393.9,1214.2 L394.6,1212.2 L395.2,1210.2 L395.8,1208.3 L396.4,1206.3 L397.1,1204.4 L397.7,1202.5 L398.3,1200.6 L398.9,1198.7 L399.5,1196.8 L400.2,1194.9 L400.8,1193.1 L401.4,1191.2 L402.0,1189.4 L402.7,1187.6 L403.3,1185.8 L403.9,1184.0 L404.5,1182.2 L405.1,1180.4 L405.8,1178.7 L406.4,1176.9 L407.0,1175.2 L407.6,1173.4 L408.3,1171.7 L408.9,1170.0 L409.5,1168.3 L410.1,1166.6 L410.7,1165.0 L411.4,1163.3 L412.0,1161.7 L412.6,1160.0 L413.2,1158.4 L413.9,1156.8 L414.5,1155.2 L415.1,1153.6 L415.7,1152.0 L416.4,1150.4 L417.0,1148.9 L417.6,1147.3 L418.2,1145.8 L418.8,1144.2 L419.5,1142.7 L420.1,1141.2 L420.7,1139.7 L421.3,1138.2 L422.0,1136.7 L422.6,1135.2 L423.2,1133.8 L423.8,1132.3 L424.4,1130.9 L425.1,1129.4 L425.7,1128.0 L426.3,1126.6 L426.9,1125.2 L427.6,1123.8 L428.2,1122.4 L428.8,1121.0 L429.4,1119.6 L430.0,1118.3 L430.7,1116.9 L431.3,1115.6 L431.9,1114.2 L432.5,1112.9 L433.2,1111.6 L433.8,1110.3 L434.4,1109.0 L435.0,1107.7 L435.7,1106.4 L436.3,1105.1 L436.9,1103.8 L437.5,1102.6 L438.1,1101.3 L438.8,1100.1 L439.4,1098.8 L440.0,1097.6 L440.6,1096.4 L441.3,1095.2 L441.9,1094.0 L442.5,1092.8 L443.1,1091.6 L443.7,1090.4 L444.4,1089.2 L445.0,1088.1 L445.6,1086.9 L446.2,1085.8 L446.9,1084.6 L447.5,1083.5 L448.1,1082.4 L448.7,1081.3 L449.3,1080.1 L450.0,1079.0 L450.6,1077.9 L451.2,1076.8 L451.8,1075.8 L452.5,1074.7 L453.1,1073.6 L453.7,1072.6 L454.3,1071.5 L455.0,1070.4 L455.6,1069.4 L456.2,1068.4 L456.8,1067.3 L457.4,1066.3 L458.1,1065.3 L458.7,1064.3 L459.3,1063.3 L459.9,1062.3 L460.6,1061.3 L461.2,1060.3 L461.8,1059.4 L462.4,1058.4 L463.0,1057.4 L463.7,1056.5 L464.3,1055.5 L464.9,1054.6 L465.5,1053.6 L466.2,1052.7 L466.8,1051.8 L467.4,1050.8 L468.0,1049.9 L468.6,1049.0 L469.3,1048.1 L469.9,1047.2 L470.5,1046.3 L471.1,1045.5 L471.8,1044.6 L472.4,1043.7 L473.0,1042.8 L473.6,1042.0 L474.3,1041.1 L474.9,1040.3 L475.5,1039.4 L476.1,1038.6 L476.7,1037.7 L477.4,1036.9 L478.0,1036.1 L478.6,1035.3 L479.2,1034.5 L479.9,1033.7 L480.5,1032.9 L481.1,1032.1 L481.7,1031.3 L482.3,1030.5 L483.0,1029.7 L483.6,1028.9 L484.2,1028.2 L484.8,1027.4 L485.5,1026.6 L486.1,1025.9 L486.7,1025.1 L487.3,1024.4 L487.9,1023.6 L488.6,1022.9 L489.2,1022.2 L489.8,1021.4 L490.4,1020.7 L491.1,1020.0 L491.7,1019.3 L492.3,1018.6 L492.9,1017.9 L493.6,1017.2 L494.2,1016.5 L494.8,1015.8 L495.4,1015.1 L496.0,1014.4 L496.7,1013.8 L497.3,1013.1 L497.9,1012.4 L498.5,1011.8 L499.2,1011.1 L499.8,1010.4 L500.4,1009.8 L501.0,1009.1 L501.6,1008.5 L502.3,1007.9 L502.9,1007.2 L503.5,1006.6 L504.1,1006.0 L504.8,1005.4 L505.4,1004.7 L506.0,1004.1 L506.6,1003.5 L507.2,1002.9 L507.9,1002.3 L508.5,1001.7 L509.1,1001.1 L509.7,1000.5 L510.4,1000.0 L511.0,999.4 L511.6,998.8 L512.2,998.2 L512.9,997.7 L513.5,997.1 L514.1,996.5 L514.7,996.0 L515.3,995.4 L516.0,994.9 L516.6,994.3 L517.2,993.8 L517.8,993.2 L518.5,992.7 L519.1,992.2 L519.7,991.6 L520.3,991.1 L520.9,990.6 L521.6,990.1 L522.2,989.5 L522.8,989.0 L523.4,988.5 L524.1,988.0 L524.7,987.5 L525.3,987.0 L525.9,986.5 L526.5,986.0 L527.2,985.5 L527.8,985.0 L528.4,984.6 L529.0,984.1 L529.7,983.6 L530.3,983.1 L530.9,982.6 L531.5,982.2 L532.2,981.7 L532.8,981.3 L533.4,980.8 L534.0,980.3 L534.6,979.9 L535.3,979.4 L535.9,979.0 L536.5,978.5 L537.1,978.1 L537.8,977.7 L538.4,977.2 L539.0,976.8 L539.6,976.4 L540.2,975.9 L540.9,975.5 L541.5,975.1 L542.1,974.7 L542.7,974.3 L543.4,973.8 L544.0,973.4 L544.6,973.0 L545.2,972.6 L545.8,972.2 L546.5,971.8 L547.1,971.4 L547.7,971.0 L548.3,970.6 L549.0,970.2 L549.6,969.9 L550.2,969.5 L550.8,969.1 L551.5,968.7 L552.1,968.3 L552.7,968.0 L553.3,967.6 L553.9,967.2 L554.6,966.8 L555.2,966.5 L555.8,966.1 L556.4,965.8 L557.1,965.4 L557.7,965.0 L558.3,964.7 L558.9,964.3 L559.5,964.0 L560.2,963.6 L560.8,963.3 L561.4,963.0 L562.0,962.6 L562.7,962.3 L563.3,961.9 L563.9,961.6 L564.5,961.3 L565.1,961.0 L565.8,960.6 L566.4,960.3 L567.0,960.0 L567.6,959.7 L568.3,959.3 L568.9,959.0 L569.5,958.7 L570.1,958.4 L570.8,958.1 L571.4,957.8 L572.0,957.5 L572.6,957.2 L573.2,956.9 L573.9,956.6 L574.5,956.3 L575.1,956.0 L575.7,955.7 L576.4,955.4 L577.0,955.1 L577.6,954.8 L578.2,954.5 L578.8,954.2 L579.5,954.0 L580.1,953.7 L580.7,953.4 L581.3,953.1 L582.0,952.9 L582.6,952.6 L583.2,952.3 L583.8,952.0 L584.4,951.8 L585.1,951.5 L585.7,951.2 L586.3,951.0 L586.9,950.7 L587.6,950.5 L588.2,950.2 L588.8,949.9 L589.4,949.7 L590.1,949.4 L590.7,949.2 L591.3,948.9 L591.9,948.7 L592.5,948.4 L593.2,948.2 L593.8,947.9 L594.4,947.7 L595.0,947.5 L595.7,947.2 L596.3,947.0 L596.9,946.8 L597.5,946.5 L598.1,946.3 L598.8,946.1 L599.4,945.8 L600.0,945.6 L600.6,945.4 L601.3,945.2 L601.9,944.9 L602.5,944.7 L603.1,944.5 L603.7,944.3 L604.4,944.1 L605.0,943.8 L605.6,943.6 L606.2,943.4 L606.9,943.2 L607.5,943.0 L608.1,942.8 L608.7,942.6 L609.4,942.4 L610.0,942.2 L610.6,942.0 L611.2,941.8 L611.8,941.6 L612.5,941.4 L613.1,941.2 L613.7,941.0 L614.3,940.8 L615.0,940.6 L615.6,940.4 L616.2,940.2 L616.8,940.0 L617.4,939.8 L618.1,939.6 L618.7,939.4 L619.3,939.2 L619.9,939.1 L620.6,938.9 L621.2,938.7 L621.8,938.5 L622.4,938.3 L623.0,938.1 L623.7,938.0 L624.3,937.8 L624.9,937.6 L625.5,937.4 L626.2,937.3 L626.8,937.1 L627.4,936.9 L628.0,936.8 L628.7,936.6 L629.3,936.4 L629.9,936.3 L630.5,936.1 L631.1,935.9 L631.8,935.8 L632.4,935.6 L633.0,935.4 L633.6,935.3 L634.3,935.1 L634.9,935.0 L635.5,934.8 L636.1,934.7 L636.7,934.5 L637.4,934.3 L638.0,934.2 L638.6,934.0 L639.2,933.9 L639.9,933.7 L640.5,933.6 L641.1,933.4 L641.7,933.3 L642.3,933.2 L643.0,933.0 L643.6,932.9 L644.2,932.7 L644.8,932.6 L645.5,932.4 L646.1,932.3 L646.7,932.2 L647.3,932.0 L647.9,931.9 L648.6,931.7 L649.2,931.6 L649.8,931.5 L650.4,931.3 L651.1,931.2 L651.7,931.1 L652.3,930.9 L652.9,930.8 L653.6,930.7 L654.2,930.6 L654.8,930.4 L655.4,930.3 L656.0,930.2 L656.7,930.1 L657.3,929.9 L657.9,929.8 L658.5,929.7 L659.2,929.6 L659.8,929.4 L660.4,929.3 L661.0,929.2 L661.6,929.1 L662.3,929.0 L662.9,928.8 L663.5,928.7 L664.1,928.6 L664.8,928.5 L665.4,928.4 L666.0,928.3 L666.6,928.2 L667.2,928.0 L667.9,927.9 L668.5,927.8 L669.1,927.7 L669.7,927.6 L670.4,927.5 L671.0,927.4 L671.6,927.3 L672.2,927.2 L672.9,927.1 L673.5,927.0 L674.1,926.9 L674.7,926.8 L675.3,926.7 L676.0,926.5 L676.6,926.4 L677.2,926.3 L677.8,926.2 L678.5,926.1 L679.1,926.0 L679.7,925.9 L680.3,925.9 L680.9,925.8 L681.6,925.7 L682.2,925.6 L682.8,925.5 L683.4,925.4 L684.1,925.3 L684.7,925.2 L685.3,925.1 L685.9,925.0 L686.5,924.9 L687.2,924.8 L687.8,924.7 L688.4,924.6 L689.0,924.5 L689.7,924.5 L690.3,924.4 L690.9,924.3 L691.5,924.2 L692.2,924.1 L692.8,924.0 L693.4,923.9 L694.0,923.9 L694.6,923.8 L695.3,923.7 L695.9,923.6 L696.5,923.5 L697.1,923.4 L697.8,923.4 L698.4,923.3 L699.0,923.2 L699.6,923.1 L700.2,923.0 L700.9,923.0 L701.5,922.9 L702.1,922.8 L702.7,922.7 L703.4,922.7 L704.0,922.6 L704.6,922.5 L705.2,922.4 L705.8,922.4 L706.5,922.3 L707.1,922.2 L707.7,922.1 L708.3,922.1 L709.0,922.0 L709.6,921.9 L710.2,921.8 L710.8,921.8 L711.5,921.7 L712.1,921.6 L712.7,921.6 L713.3,921.5 L713.9,921.4 L714.6,921.4 L715.2,921.3 L715.8,921.2 L716.4,921.2 L717.1,921.1 L717.7,921.0 L718.3,921.0 L718.9,920.9 L719.5,920.8 L720.2,920.8 L720.8,920.7 L721.4,920.6 L722.0,920.6 L722.7,920.5 L723.3,920.4 L723.9,920.4 L724.5,920.3 L725.1,920.3 L725.8,920.2 L726.4,920.1 L727.0,920.1 L727.6,920.0 L728.3,920.0 L728.9,919.9 L729.5,919.8 L730.1,919.8 L730.8,919.7 L731.4,919.7 L732.0,919.6 L732.6,919.6 L733.2,919.5 L733.9,919.5 L734.5,919.4 L735.1,919.3 L735.7,919.3 L736.4,919.2 L737.0,919.2 L737.6,919.1 L738.2,919.1 L738.8,919.0 L739.5,919.0 L740.1,918.9 L740.7,918.9 L741.3,918.8 L742.0,918.8 L742.6,918.7 L743.2,918.7 L743.8,918.6 L744.4,918.6 L745.1,918.5 L745.7,918.5 L746.3,918.4 L746.9,918.4 L747.6,918.3 L748.2,918.3 L748.8,918.2 L749.4,918.2 L750.1,918.1 L750.7,918.1 L751.3,918.0 L751.9,918.0 L752.5,917.9 L753.2,917.9 L753.8,917.9 L754.4,917.8 L755.0,917.8 L755.7,917.7 L756.3,917.7 L756.9,917.6 L757.5,917.6 L758.1,917.5 L758.8,917.5 L759.4,917.5 L760.0,917.4 L760.6,917.4 L761.3,917.3 L761.9,917.3 L762.5,917.3 L763.1,917.2 L763.7,917.2 L764.4,917.1 L765.0,917.1 L765.6,917.0 L766.2,917.0 L766.9,917.0 L767.5,916.9 L768.1,916.9 L768.7,916.9 L769.4,916.8 L770.0,916.8 L770.6,916.7 L771.2,916.7 L771.8,916.7 L772.5,916.6 L773.1,916.6 L773.7,916.6 L774.3,916.5 L775.0,916.5 L775.6,916.4 L776.2,916.4 L776.8,916.4 L777.4,916.3 L778.1,916.3 L778.7,916.3 L779.3,916.2 L779.9,916.2 L780.6,916.2 L781.2,916.1 L781.8,916.1 L782.4,916.1 L783.0,916.0 L783.7,916.0 L784.3,916.0 L784.9,915.9 L785.5,915.9 L786.2,915.9 L786.8,915.8 L787.4,915.8 L788.0,915.8 L788.7,915.7 L789.3,915.7 L789.9,915.7 L790.5,915.7 L791.1,915.6 L791.8,915.6 L792.4,915.6 L793.0,915.5 L793.6,915.5 L794.3,915.5 L794.9,915.4 L795.5,915.4 L796.1,915.4 L796.7,915.4 L797.4,915.3 L798.0,915.3 L798.6,915.3 L799.2,915.2 L799.9,915.2 L800.5,915.2 L801.1,915.2 L801.7,915.1 L802.3,915.1 L803.0,915.1 L803.6,915.1 L804.2,915.0 L804.8,915.0 L805.5,915.0 L806.1,914.9 L806.7,914.9 L807.3,914.9 L808.0,914.9 L808.6,914.8 L809.2,914.8 L809.8,914.8 L810.4,914.8 L811.1,914.7 L811.7,914.7 L812.3,914.7 L812.9,914.7 L813.6,914.7 L814.2,914.6 L814.8,914.6 L815.4,914.6 L816.0,914.6 L816.7,914.5 L817.3,914.5 L817.9,914.5 L818.5,914.5 L819.2,914.4 L819.8,914.4 L820.4,914.4 L821.0,914.4 L821.6,914.4 L822.3,914.3 L822.9,914.3 L823.5,914.3 L824.1,914.3 L824.8,914.2 L825.4,914.2 L826.0,914.2 L826.6,914.2 L827.3,914.2 L827.9,914.1 L828.5,914.1 L829.1,914.1 L829.7,914.1 L830.4,914.1 L831.0,914.0 L831.6,914.0 L832.2,914.0 L832.9,914.0 L833.5,914.0 L834.1,913.9 L834.7,913.9 L835.3,913.9 L836.0,913.9 L836.6,913.9 L837.2,913.8 L837.8,913.8 L838.5,913.8 L839.1,913.8 L839.7,913.8 L840.3,913.8 L840.9,913.7 L841.6,913.7 L842.2,913.7 L842.8,913.7 L843.4,913.7 L844.1,913.6 L844.7,913.6 L845.3,913.6 L845.9,913.6 L846.6,913.6 L847.2,913.6 L847.8,913.5 L848.4,913.5 L849.0,913.5 L849.7,913.5 L850.3,913.5 L850.9,913.5 L851.5,913.4 L852.2,913.4 L852.8,913.4 L853.4,913.4 L854.0,913.4 L854.6,913.4 L855.3,913.4 L855.9,913.3 L856.5,913.3 L857.1,913.3 L857.8,913.3 L858.4,913.3 L859.0,913.3 L859.6,913.2 L860.2,913.2 L860.9,913.2 L861.5,913.2 L862.1,913.2 L862.7,913.2 L863.4,913.2 L864.0,913.1 L864.6,913.1 L865.2,913.1 L865.9,913.1 L866.5,913.1 L867.1,913.1 L867.7,913.1 L868.3,913.1 L869.0,913.0 L869.6,913.0 L870.2,913.0 L870.8,913.0 L871.5,913.0 L872.1,913.0 L872.7,913.0 L877.1,912.9 L881.6,912.8 L886.0,912.7 L890.5,912.6 L894.9,912.5 L899.4,912.5 L903.8,912.4 L908.3,912.3 L912.7,912.3 L917.2,912.2 L921.6,912.2 L926.0,912.1 L930.5,912.1 L934.9,912.0 L939.4,912.0 L943.8,911.9 L948.3,911.9 L952.7,911.8 L957.2,911.8 L961.6,911.8 L966.1,911.7 L970.5,911.7 L975.0,911.7 L979.4,911.6 L983.8,911.6 L988.3,911.6 L992.7,911.6 L997.2,911.5 L1001.6,911.5 L1006.1,911.5 L1010.5,911.5 L1015.0,911.4 L1019.4,911.4 L1023.9,911.4 L1028.3,911.4 L1032.7,911.4 L1037.2,911.3 L1041.6,911.3 L1046.1,911.3 L1050.5,911.3 L1055.0,911.3 L1059.4,911.3 L1063.9,911.3 L1068.3,911.2 L1072.8,911.2 L1077.2,911.2 L1081.7,911.2 L1086.1,911.2 L1090.5,911.2 L1095.0,911.2 L1099.4,911.2 L1103.9,911.2 L1108.3,911.2 L1112.8,911.2 L1117.2,911.1 L1121.7,911.1 L1126.1,911.1 L1130.6,911.1 L1135.0,911.1 L1139.4,911.1 L1143.9,911.1 L1148.3,911.1 L1152.8,911.1 L1157.2,911.1 L1161.7,911.1 L1166.1,911.1 L1170.6,911.1 L1175.0,911.1 L1179.5,911.1 L1183.9,911.1 L1188.4,911.1 L1192.8,911.1 L1197.2,911.1 L1201.7,911.1 L1206.1,911.1 L1210.6,911.1 L1215.0,911.1 L1219.5,911.1 L1223.9,911.0 L1228.4,911.0 L1232.8,911.0 L1237.3,911.0 L1241.7,911.0 L1246.1,911.0 L1250.6,911.0 L1255.0,911.0 L1259.5,911.0 L1263.9,911.0 L1268.4,911.0 L1272.8,911.0 L1277.3,911.0 L1281.7,911.0 L1286.2,911.0 L1290.6,911.0 L1295.1,911.0 L1299.5,911.0 L1303.9,911.0 L1308.4,911.0 L1312.8,911.0 L1317.3,911.0 L1321.7,911.0 L1326.2,911.0 L1330.6,911.0 L1335.1,911.0 L1339.5,911.0 L1344.0,911.0 L1348.4,911.0 L1352.8,911.0 L1357.3,911.0 L1361.7,911.0 L1366.2,911.0 L1370.6,911.0 L1375.1,911.0 L1379.5,911.0 L1384.0,911.0 L1388.4,911.0 L1392.9,911.0 L1397.3,911.0 L1401.8,911.0 L1406.2,911.0 L1410.6,911.0 L1415.1,911.0 L1419.5,911.0 L1424.0,911.0 L1428.4,911.0 L1432.9,911.0 L1437.3,911.0 L1441.8,911.0 L1446.2,911.0 L1450.7,911.0 L1455.1,911.0 L1459.5,911.0 L1464.0,911.0 L1468.4,911.0 L1472.9,911.0 L1477.3,911.0 L1481.8,911.0 L1486.2,911.0 L1490.7,911.0 L1495.1,911.0 L1499.6,911.0 L1504.0,911.0 L1508.5,911.0 L1512.9,911.0 L1517.3,911.0 L1521.8,911.0 L1526.2,911.0 L1530.7,911.0 L1535.1,911.0 L1539.6,911.0 L1544.0,911.0 L1548.5,911.0 L1552.9,911.0 L1557.4,911.0 L1561.8,911.0 L1566.2,911.0 L1570.7,911.0 L1575.1,911.0 L1579.6,911.0 L1584.0,911.0 L1588.5,911.0 L1592.9,911.0 L1597.4,911.0 L1601.8,911.0 L1606.3,911.0 L1610.7,911.0 L1615.2,911.0 L1619.6,911.0 L1624.0,911.0 L1628.5,911.0 L1632.9,911.0 L1637.4,911.0 L1641.8,911.0 L1646.3,911.0 L1650.7,911.0 L1655.2,911.0 L1659.6,911.0 L1664.1,911.0 L1668.5,911.0 L1672.9,911.0 L1677.4,911.0 L1681.8,911.0 L1686.3,911.0 L1690.7,911.0 L1695.2,911.0 L1699.6,911.0 L1704.1,911.0 L1708.5,911.0 L1713.0,911.0 L1717.4,911.0 L1721.9,911.0 L1726.3,911.0 L1730.7,911.0 L1735.2,911.0 L1739.6,911.0 L1744.1,911.0 L1748.5,911.0 L1753.0,911.0 L1757.4,911.0 L1761.9,911.0 L1766.3,911.0 L1770.8,911.0 L1775.2,911.0 L1779.6,911.0 L1784.1,911.0 L1788.5,911.0 L1793.0,911.0 L1797.4,911.0 L1801.9,911.0 L1806.3,911.0 L1810.8,911.0 L1815.2,911.0 L1819.7,911.0 L1824.1,911.0 L1828.6,911.0 L1833.0,911.0 L1837.4,911.0 L1841.9,911.0 L1846.3,911.0 L1850.8,911.0 L1855.2,911.0 L1859.7,911.0 L1864.1,911.0 L1868.6,911.0 L1873.0,911.0 L1877.5,911.0 L1881.9,911.0 L1886.3,911.0 L1890.8,911.0 L1895.2,911.0 L1899.7,911.0 L1904.1,911.0 L1908.6,911.0 L1913.0,911.0 L1917.5,911.0 L1921.9,911.0 L1926.4,911.0 L1930.8,911.0 L1935.3,911.0 L1939.7,911.0 L1944.1,911.0 L1948.6,911.0 L1953.0,911.0 L1957.5,911.0 L1961.9,911.0 L1966.4,911.0 L1970.8,911.0 L1975.3,911.0 L1979.7,911.0 L1984.2,911.0 L1988.6,911.0 L1993.0,911.0 L1997.5,911.0 L2001.9,911.0 L2006.4,911.0 L2010.8,911.0 L2015.3,911.0 L2019.7,911.0 L2024.2,911.0 L2028.6,911.0 L2033.1,911.0 L2037.5,911.0 L2042.0,911.0 L2046.4,911.0 L2050.8,911.0 L2055.3,911.0 L2059.7,911.0 L2064.2,911.0 L2068.6,911.0 L2073.1,911.0 L2077.5,911.0 L2082.0,911.0 L2086.4,911.0 L2090.9,911.0 L2095.3,911.0 L2099.7,911.0 L2104.2,911.0 L2108.6,911.0 L2113.1,911.0 L2117.5,911.0 L2122.0,911.0 L2126.4,911.0 L2130.9,911.0 L2135.3,911.0 L2139.8,911.0 L2144.2,911.0 L2148.7,911.0 L2153.1,911.0 L2157.5,911.0 L2162.0,911.0 L2166.4,911.0 L2170.9,911.0 L2175.3,911.0 L2179.8,911.0 L2184.2,911.0 L2188.7,911.0 L2193.1,911.0 L2197.6,911.0 L2202.0,911.0"/>
</g>
<g id="ticklabels" font-family="'Liberation Sans', Arial, Helvetica, sans-serif" font-size="77" fill="#262626">
<text x="280.79" y="1731.0" textLength="40.17" lengthAdjust="spacingAndGlyphs">0</text>
<text x="658.93" y="1731.0" textLength="43.56" lengthAdjust="spacingAndGlyphs">2</text>
<text x="1038.88" y="1731.0" textLength="41.18" lengthAdjust="spacingAndGlyphs">4</text>
<text x="1417.33" y="1731.0" textLength="44.66" lengthAdjust="spacingAndGlyphs">6</text>
<text x="1798.74" y="1731.0" textLength="43.66" lengthAdjust="spacingAndGlyphs">8</text>
<clipPath id="one5"><path d="M2109.5,1641.0 H2379.5 V1724.2 H2109.5 Z M2177.31,1723.2 H2184.82 V1734.0 H2177.31 Z M2198.49,1723.2 H2379.5 V1761.0 H2198.49 Z M2109.5,1723.2 H2163.64 V1761.0 H2109.5 Z"/></clipPath>
<text x="2159.49" y="1731.0" textLength="82.16" lengthAdjust="spacingAndGlyphs" clip-path="url(#one5)">10</text>
<clipPath id="one6"><path d="M178.2,-19.2 H448.2 V64.0 H178.2 Z M245.93,63.0 H253.40 V73.8 H245.93 Z M266.98,63.0 H448.2 V100.8 H266.98 Z M178.2,63.0 H232.35 V100.8 H178.2 Z"/></clipPath>
<text x="228.23" y="70.8" textLength="40.80" lengthAdjust="spacingAndGlyphs" clip-path="url(#one6)">1</text>
<text x="163.78" y="466.0" textLength="104.19" lengthAdjust="spacingAndGlyphs">0.5</text>
<text x="228.14" y="861.0" textLength="39.47" lengthAdjust="spacingAndGlyphs">0</text>
<text x="141.05" y="1255.9" textLength="130.48" lengthAdjust="spacingAndGlyphs">-0.5</text>
<clipPath id="one10"><path d="M155.2,1560.9 H425.2 V1644.1 H155.2 Z M247.90,1643.1 H255.40 V1653.9 H247.90 Z M269.04,1643.1 H425.2 V1680.9 H269.04 Z M155.2,1643.1 H234.26 V1680.9 H155.2 Z"/></clipPath>
<text x="205.23" y="1650.9" textLength="65.53" lengthAdjust="spacingAndGlyphs" clip-path="url(#one10)">-1</text>
</g>
<text id="xlabel" font-family="'Liberation Serif', 'Times New Roman', Times, serif" fill="#262626" stroke="#262626" stroke-width="0.7"><tspan x="1071.78" y="1828.70" font-size="84" textLength="57.49" lengthAdjust="spacingAndGlyphs">T</tspan><tspan x="1131.23" y="1828.70" font-size="84" textLength="130.24" lengthAdjust="spacingAndGlyphs">ime</tspan><tspan x="1266.08" y="1830.70" font-size="92" textLength="25.41" lengthAdjust="spacingAndGlyphs">(</tspan><tspan x="1293.31" y="1828.70" font-size="84" textLength="106.95" lengthAdjust="spacingAndGlyphs">sec</tspan><tspan x="1402.50" y="1830.70" font-size="92" textLength="25.53" lengthAdjust="spacingAndGlyphs">)</tspan></text>
<g transform="translate(89,1093) rotate(-90)">
<text id="ylabel" font-family="'Liberation Serif', 'Times New Roman', Times, serif" fill="#262626" stroke="#262626" stroke-width="0.5"><tspan x="7.94" y="0.00" font-size="86" textLength="32.91" lengthAdjust="spacingAndGlyphs" font-style="italic">y</tspan><tspan x="40.81" y="11.30" font-size="60" textLength="28.71" lengthAdjust="spacingAndGlyphs">1</tspan><tspan> </tspan><tspan x="94.05" y="6.40" font-size="86" textLength="61.25" lengthAdjust="spacingAndGlyphs">−</tspan><tspan> </tspan><tspan x="183.82" y="0.00" font-size="86" textLength="32.83" lengthAdjust="spacingAndGlyphs" font-style="italic">y</tspan><tspan x="215.82" y="11.30" font-size="60" textLength="27.81" lengthAdjust="spacingAndGlyphs" font-style="italic">r</tspan><tspan x="245.17" y="11.30" font-size="60" textLength="27.10" lengthAdjust="spacingAndGlyphs" font-style="italic">e</tspan><tspan x="273.61" y="11.30" font-size="60" textLength="23.19" lengthAdjust="spacingAndGlyphs" font-style="italic">f</tspan><tspan x="300.94" y="19.40" font-size="40" textLength="20.40" lengthAdjust="spacingAndGlyphs">1</tspan><tspan x="335.23" y="0.00" font-size="92" textLength="25.79" lengthAdjust="spacingAndGlyphs">(</tspan><tspan x="358.97" y="0.00" font-size="86" textLength="38.71" lengthAdjust="spacingAndGlyphs" font-style="italic">r</tspan><tspan x="401.57" y="0.00" font-size="86" textLength="46.25" lengthAdjust="spacingAndGlyphs" font-style="italic">a</tspan><tspan x="446.07" y="0.00" font-size="86" textLength="43.43" lengthAdjust="spacingAndGlyphs" font-style="italic">d</tspan><tspan x="491.21" y="0.00" font-size="92" textLength="26.43" lengthAdjust="spacingAndGlyphs">)</tspan></text>
</g>
<rect x="1102" y="99" width="1043" height="364" fill="#262626"/>
<rect x="1106" y="103" width="1034" height="355" fill="#ffffff"/>
<g fill="none">
<path stroke="#0000ff" stroke-width="12.6" d="M1126,153.4 H1356"/>
<path stroke="#000000" stroke-width="13.2" stroke-dasharray="38 35" d="M1126,238.3 H1356"/>
<path stroke="#ff0000" stroke-width="12.8" stroke-dasharray="38 8 18.5 8.5" d="M1126,323.4 H1356"/>
<path stroke="#00ff00" stroke-width="11.1" stroke-dasharray="10.3 7.93" d="M1126,408.4 H1356"/>
</g>
<text font-family="'Liberation Serif', 'Times New Roman', Times, serif" fill="#000000" stroke="#000000" stroke-width="0.7"><tspan x="1371.23" y="169.80" font-size="71" textLength="47.40" lengthAdjust="spacingAndGlyphs">P</tspan><tspan x="1418.65" y="169.80" font-size="69" textLength="230.05" lengthAdjust="spacingAndGlyphs">roposed</tspan></text>
<text font-family="'Liberation Serif', 'Times New Roman', Times, serif" fill="#000000" stroke="#000000" stroke-width="0.7"><tspan x="1372.01" y="255.20" font-size="71" textLength="50.52" lengthAdjust="spacingAndGlyphs">C</tspan><tspan x="1419.79" y="255.20" font-size="69" textLength="254.04" lengthAdjust="spacingAndGlyphs">ontroller</tspan><tspan> </tspan><tspan x="1700.49" y="256.20" font-size="77" textLength="21.42" lengthAdjust="spacingAndGlyphs">(</tspan><tspan x="1722.57" y="255.20" font-size="69" textLength="34.75" lengthAdjust="spacingAndGlyphs">5</tspan><tspan x="1759.32" y="256.20" font-size="77" textLength="21.50" lengthAdjust="spacingAndGlyphs">)</tspan><tspan> </tspan><tspan x="1808.07" y="255.20" font-size="69" textLength="55.01" lengthAdjust="spacingAndGlyphs">in</tspan><tspan> </tspan><tspan x="1886.51" y="255.20" font-size="71" textLength="45.69" lengthAdjust="spacingAndGlyphs">B</tspan><tspan x="1933.32" y="255.20" font-size="69" textLength="148.98" lengthAdjust="spacingAndGlyphs">erger</tspan></text>
<text font-family="'Liberation Serif', 'Times New Roman', Times, serif" fill="#000000" stroke="#000000" stroke-width="0.7"><tspan x="1372.01" y="339.80" font-size="71" textLength="50.52" lengthAdjust="spacingAndGlyphs">C</tspan><tspan x="1419.79" y="339.80" font-size="69" textLength="254.04" lengthAdjust="spacingAndGlyphs">ontroller</tspan><tspan> </tspan><tspan x="1700.49" y="340.80" font-size="77" textLength="21.42" lengthAdjust="spacingAndGlyphs">(</tspan><tspan x="1723.57" y="339.80" font-size="69" textLength="69.77" lengthAdjust="spacingAndGlyphs">20</tspan><tspan x="1793.83" y="340.80" font-size="77" textLength="21.50" lengthAdjust="spacingAndGlyphs">)</tspan><tspan> </tspan><tspan x="1842.16" y="339.80" font-size="69" textLength="56.05" lengthAdjust="spacingAndGlyphs">in</tspan><tspan> </tspan><tspan x="1921.01" y="339.80" font-size="71" textLength="45.69" lengthAdjust="spacingAndGlyphs">B</tspan><tspan x="1967.82" y="339.80" font-size="69" textLength="148.88" lengthAdjust="spacingAndGlyphs">erger</tspan></text>
<text font-family="'Liberation Serif', 'Times New Roman', Times, serif" fill="#000000" stroke="#000000" stroke-width="0.7"><tspan x="1371.88" y="425.30" font-size="69" textLength="33.49" lengthAdjust="spacingAndGlyphs">1</tspan><tspan x="1410.00" y="440.70" font-size="101" stroke="none" textLength="27.06" lengthAdjust="spacingAndGlyphs">/</tspan><tspan x="1444.00" y="425.30" font-size="69" stroke="none" textLength="33.12" lengthAdjust="spacingAndGlyphs" font-style="italic">ρ</tspan><tspan x="1474.68" y="436.80" font-size="48" textLength="25.44" lengthAdjust="spacingAndGlyphs">0</tspan><tspan x="1506.13" y="426.30" font-size="77" textLength="21.94" lengthAdjust="spacingAndGlyphs">(</tspan><tspan x="1526.37" y="425.30" font-size="79" stroke="none" textLength="25.42" lengthAdjust="spacingAndGlyphs" font-style="italic">t</tspan><tspan x="1556.32" y="426.30" font-size="77" textLength="21.55" lengthAdjust="spacingAndGlyphs">)</tspan></text>
</svg>
</body>
</html>
